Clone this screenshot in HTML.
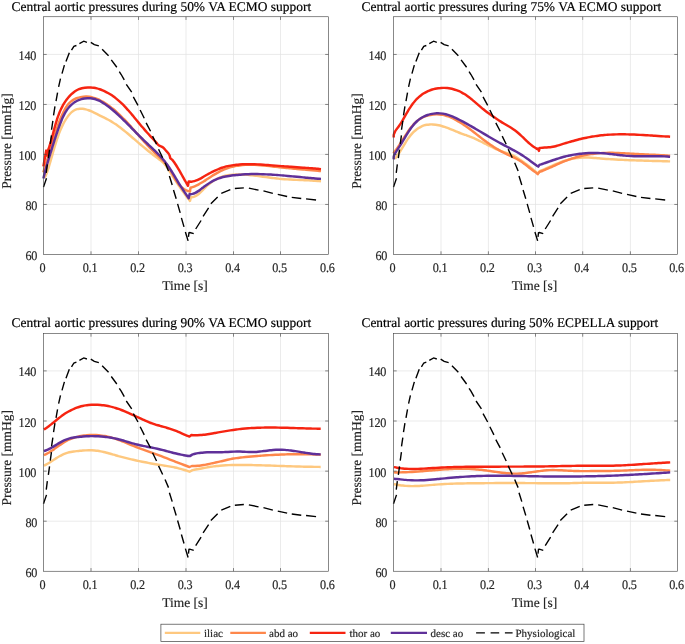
<!DOCTYPE html>
<html lang="en"><head><meta charset="utf-8"><title>Central aortic pressures</title>
<style>html,body{margin:0;padding:0;background:#fff}body{width:685px;height:644px;overflow:hidden}svg{display:block;font-family:"Liberation Serif",serif}text{stroke:#262626;stroke-width:.18px;text-rendering:geometricPrecision}text.t{stroke:#000}</style>
</head><body>
<svg width="685" height="644" viewBox="0 0 685 644">
<rect width="685" height="644" fill="#fff"/>
<g>
<path d="M91 16.75V254.5M138.5 16.75V254.5M186 16.75V254.5M233.5 16.75V254.5M280.5 16.75V254.5M43.5 204.45H328.4M43.5 154.4H328.4M43.5 104.45H328.4M43.5 54.45H328.4" stroke="#e2e2e2" stroke-width="0.7" fill="none"/>
<g fill="none" stroke-width="2.45" stroke-linejoin="round">
<path d="M44.5 178C44.73 177.54 45.48 176.17 45.9 175.25C46.31 174.33 46.64 173.4 46.98 172.47C47.32 171.54 47.62 170.6 47.92 169.66C48.23 168.72 48.53 167.78 48.82 166.83C49.11 165.89 49.4 164.93 49.69 163.98C49.97 163.03 50.25 162.07 50.53 161.11C50.8 160.16 51.08 159.2 51.35 158.23C51.62 157.27 51.9 156.31 52.17 155.35C52.44 154.38 52.71 153.42 52.99 152.46C53.27 151.49 53.54 150.53 53.82 149.56C54.1 148.6 54.38 147.64 54.67 146.67C54.96 145.71 55.25 144.75 55.55 143.79C55.85 142.83 56.15 141.88 56.46 140.92C56.77 139.97 57.09 139.01 57.42 138.06C57.74 137.12 58.08 136.17 58.42 135.23C58.77 134.28 59.12 133.35 59.49 132.41C59.85 131.48 60.23 130.55 60.62 129.62C61.01 128.7 61.41 127.78 61.83 126.87C62.25 125.95 62.69 125.05 63.14 124.15C63.6 123.26 64.08 122.37 64.58 121.49C65.08 120.62 65.6 119.75 66.16 118.9C66.71 118.05 67.29 117.2 67.91 116.38C68.52 115.56 69.16 114.74 69.84 113.99C70.52 113.24 71.23 112.51 71.99 111.88C72.74 111.25 73.53 110.68 74.36 110.23C75.2 109.78 76.08 109.43 76.99 109.18C77.9 108.93 78.85 108.8 79.81 108.75C80.77 108.69 81.77 108.73 82.76 108.84C83.75 108.94 84.75 109.14 85.74 109.38C86.73 109.62 87.72 109.94 88.69 110.28C89.66 110.63 90.63 111.04 91.58 111.46C92.53 111.87 93.47 112.34 94.41 112.8C95.34 113.25 96.27 113.74 97.19 114.2C98.1 114.66 99.01 115.12 99.91 115.57C100.81 116.02 101.7 116.45 102.59 116.88C103.47 117.32 104.35 117.74 105.22 118.18C106.09 118.62 106.95 119.06 107.81 119.51C108.67 119.97 109.52 120.43 110.36 120.92C111.21 121.41 112.05 121.92 112.88 122.44C113.71 122.97 114.54 123.51 115.36 124.07C116.19 124.62 117 125.2 117.82 125.78C118.63 126.37 119.44 126.97 120.24 127.58C121.04 128.19 121.84 128.81 122.64 129.44C123.43 130.06 124.22 130.7 125.01 131.34C125.8 131.98 126.58 132.63 127.36 133.28C128.14 133.93 128.91 134.59 129.69 135.25C130.46 135.9 131.23 136.56 132 137.22C132.76 137.88 133.53 138.53 134.29 139.19C135.05 139.84 135.81 140.49 136.57 141.14C137.32 141.79 138.08 142.43 138.84 143.08C139.59 143.72 140.35 144.36 141.11 145C141.87 145.64 142.62 146.28 143.38 146.91C144.15 147.55 144.91 148.18 145.67 148.81C146.44 149.44 147.21 150.06 147.98 150.69C148.75 151.31 149.53 151.94 150.31 152.56C151.09 153.18 151.88 153.8 152.67 154.41C153.47 155.03 154.27 155.64 155.08 156.25C155.88 156.86 156.7 157.47 157.52 158.08C158.33 158.69 159.17 159.3 159.97 159.92C160.76 160.55 161.56 161.18 162.31 161.85C163.05 162.52 163.78 163.21 164.44 163.94C165.09 164.67 165.68 165.44 166.26 166.23C166.83 167.02 167.35 167.86 167.88 168.68C168.42 169.51 168.94 170.34 169.47 171.18C170.01 172.02 170.54 172.86 171.08 173.7C171.61 174.54 172.15 175.38 172.7 176.23C173.24 177.07 173.79 177.92 174.33 178.77C174.88 179.61 175.43 180.46 175.99 181.3C176.54 182.15 177.1 182.99 177.66 183.83C178.22 184.68 178.79 185.52 179.35 186.35C179.92 187.19 180.49 188.02 181.07 188.86C181.65 189.69 182.22 190.51 182.81 191.33C183.39 192.16 183.98 192.97 184.57 193.78C185.16 194.59 185.75 195.4 186.35 196.2C186.95 197 187.56 197.79 188.16 198.57C188.77 199.36 189.69 200.51 190 200.9L190 200.9L190.9 197.3L190.91 197.31C191.38 197.23 192.84 197.14 193.74 196.87C194.65 196.59 195.5 196.15 196.33 195.66C197.16 195.17 197.95 194.56 198.73 193.93C199.5 193.3 200.25 192.6 201 191.89C201.75 191.18 202.48 190.42 203.22 189.67C203.96 188.92 204.69 188.15 205.44 187.4C206.2 186.66 206.95 185.91 207.74 185.2C208.53 184.5 209.33 183.82 210.16 183.17C210.98 182.53 211.83 181.92 212.69 181.34C213.55 180.76 214.44 180.22 215.33 179.72C216.23 179.21 217.14 178.74 218.06 178.31C218.98 177.88 219.92 177.49 220.87 177.14C221.82 176.79 222.78 176.49 223.75 176.22C224.71 175.95 225.69 175.73 226.67 175.54C227.66 175.34 228.65 175.19 229.64 175.06C230.64 174.93 231.64 174.83 232.64 174.75C233.64 174.67 234.64 174.62 235.65 174.58C236.65 174.54 237.66 174.53 238.66 174.52C239.67 174.52 240.68 174.54 241.68 174.57C242.69 174.59 243.7 174.64 244.71 174.7C245.72 174.75 246.73 174.82 247.75 174.9C248.76 174.98 249.77 175.08 250.78 175.18C251.8 175.28 252.81 175.39 253.83 175.5C254.84 175.62 255.86 175.74 256.87 175.87C257.89 176 258.91 176.13 259.92 176.27C260.94 176.4 261.96 176.54 262.98 176.68C264 176.83 265.02 176.97 266.03 177.11C267.05 177.25 268.07 177.39 269.09 177.53C270.11 177.67 271.13 177.8 272.15 177.93C273.17 178.06 274.2 178.19 275.22 178.31C276.24 178.43 277.26 178.54 278.28 178.64C279.3 178.75 280.32 178.84 281.34 178.93C282.36 179.02 283.38 179.1 284.41 179.18C285.43 179.25 286.45 179.32 287.47 179.38C288.49 179.45 289.51 179.5 290.53 179.56C291.55 179.62 292.57 179.67 293.59 179.71C294.61 179.76 295.63 179.81 296.65 179.85C297.67 179.9 298.69 179.94 299.71 179.98C300.72 180.03 301.74 180.07 302.76 180.12C303.78 180.16 304.79 180.2 305.81 180.25C306.83 180.3 307.84 180.35 308.86 180.4C309.87 180.46 310.89 180.52 311.9 180.58C312.91 180.64 313.93 180.71 314.94 180.78C315.95 180.85 316.96 180.93 317.97 181.02C318.98 181.11 320.49 181.25 321 181.3" stroke="#FEC87F"/>
<path d="M43.3 172.4C43.45 171.92 43.88 170.46 44.17 169.49C44.46 168.53 44.75 167.57 45.05 166.61C45.34 165.65 45.64 164.7 45.93 163.74C46.23 162.79 46.53 161.84 46.83 160.89C47.13 159.94 47.43 158.99 47.73 158.04C48.03 157.1 48.33 156.15 48.63 155.2C48.93 154.26 49.23 153.31 49.53 152.36C49.83 151.42 50.13 150.47 50.42 149.52C50.72 148.57 51.02 147.62 51.31 146.67C51.61 145.72 51.9 144.76 52.2 143.8C52.49 142.85 52.78 141.88 53.07 140.92C53.36 139.96 53.64 138.99 53.93 138.03C54.23 137.06 54.51 136.1 54.81 135.13C55.1 134.16 55.4 133.19 55.7 132.23C56 131.26 56.3 130.3 56.61 129.33C56.92 128.37 57.24 127.41 57.56 126.45C57.89 125.5 58.22 124.54 58.56 123.59C58.9 122.65 59.25 121.7 59.61 120.76C59.97 119.82 60.34 118.89 60.73 117.96C61.11 117.03 61.51 116.11 61.92 115.2C62.33 114.28 62.76 113.38 63.2 112.48C63.64 111.59 64.09 110.69 64.58 109.82C65.06 108.95 65.55 108.09 66.09 107.26C66.63 106.43 67.19 105.62 67.79 104.86C68.4 104.09 69.04 103.36 69.74 102.67C70.44 101.99 71.18 101.35 71.99 100.77C72.8 100.2 73.67 99.67 74.57 99.21C75.48 98.75 76.45 98.35 77.43 98.01C78.41 97.66 79.43 97.38 80.44 97.16C81.46 96.94 82.49 96.78 83.51 96.69C84.52 96.59 85.53 96.56 86.52 96.58C87.51 96.6 88.49 96.69 89.46 96.82C90.42 96.95 91.38 97.13 92.32 97.36C93.26 97.59 94.19 97.87 95.11 98.18C96.03 98.49 96.94 98.85 97.83 99.23C98.73 99.62 99.62 100.05 100.49 100.49C101.37 100.94 102.23 101.42 103.08 101.92C103.94 102.41 104.78 102.94 105.62 103.48C106.45 104.01 107.28 104.57 108.09 105.15C108.91 105.72 109.72 106.32 110.52 106.92C111.31 107.53 112.1 108.16 112.88 108.79C113.66 109.43 114.44 110.08 115.2 110.75C115.97 111.41 116.72 112.09 117.47 112.78C118.22 113.46 118.97 114.16 119.7 114.87C120.44 115.58 121.17 116.29 121.89 117.02C122.61 117.74 123.33 118.47 124.04 119.21C124.75 119.94 125.45 120.68 126.15 121.43C126.85 122.18 127.54 122.93 128.23 123.68C128.91 124.43 129.6 125.19 130.27 125.94C130.95 126.69 131.63 127.45 132.29 128.21C132.96 128.96 133.63 129.71 134.29 130.47C134.95 131.22 135.61 131.97 136.26 132.71C136.92 133.46 137.57 134.2 138.22 134.95C138.88 135.69 139.53 136.43 140.18 137.16C140.83 137.9 141.48 138.64 142.13 139.37C142.78 140.1 143.44 140.83 144.09 141.56C144.75 142.29 145.41 143.01 146.07 143.73C146.74 144.45 147.4 145.17 148.07 145.89C148.75 146.61 149.42 147.32 150.1 148.03C150.79 148.74 151.48 149.45 152.17 150.16C152.87 150.86 153.57 151.57 154.29 152.27C155 152.97 155.72 153.66 156.45 154.36C157.18 155.05 157.93 155.74 158.67 156.44C159.41 157.13 160.16 157.82 160.89 158.53C161.63 159.23 162.36 159.94 163.07 160.67C163.78 161.4 164.48 162.14 165.15 162.9C165.82 163.67 166.46 164.45 167.07 165.26C167.68 166.07 168.26 166.91 168.81 167.76C169.36 168.61 169.88 169.48 170.4 170.36C170.91 171.24 171.4 172.13 171.89 173.02C172.38 173.91 172.86 174.81 173.34 175.69C173.83 176.57 174.31 177.46 174.81 178.32C175.31 179.19 175.81 180.04 176.34 180.87C176.87 181.7 177.41 182.51 177.99 183.28C178.57 184.06 179.17 184.81 179.82 185.51C180.46 186.22 181.14 186.9 181.87 187.52C182.6 188.14 183.37 188.72 184.21 189.24C185.05 189.76 185.93 190.23 186.9 190.62C187.86 191.02 189.48 191.44 190 191.6L190 191.6L190.5 187.7L190.5 187.9C190.98 187.73 192.42 187.27 193.36 186.9C194.29 186.53 195.21 186.12 196.11 185.69C197.02 185.26 197.9 184.8 198.78 184.32C199.67 183.84 200.53 183.34 201.4 182.82C202.26 182.31 203.11 181.77 203.97 181.23C204.82 180.69 205.67 180.13 206.52 179.58C207.37 179.03 208.22 178.47 209.07 177.91C209.92 177.36 210.78 176.8 211.64 176.25C212.49 175.71 213.35 175.16 214.22 174.63C215.09 174.1 215.96 173.58 216.85 173.08C217.73 172.58 218.61 172.09 219.51 171.62C220.41 171.16 221.32 170.71 222.23 170.29C223.15 169.87 224.08 169.47 225.02 169.1C225.95 168.73 226.9 168.38 227.86 168.06C228.81 167.74 229.78 167.45 230.74 167.18C231.71 166.91 232.68 166.67 233.66 166.45C234.63 166.23 235.61 166.04 236.59 165.87C237.57 165.69 238.56 165.55 239.54 165.42C240.53 165.29 241.52 165.19 242.51 165.1C243.5 165.01 244.49 164.95 245.48 164.9C246.48 164.85 247.47 164.82 248.47 164.8C249.47 164.78 250.47 164.79 251.47 164.8C252.47 164.81 253.47 164.84 254.48 164.88C255.48 164.92 256.49 164.97 257.49 165.03C258.5 165.09 259.51 165.16 260.52 165.24C261.53 165.32 262.54 165.41 263.55 165.5C264.56 165.6 265.57 165.7 266.59 165.8C267.6 165.91 268.61 166.02 269.63 166.13C270.64 166.24 271.66 166.36 272.67 166.47C273.69 166.59 274.7 166.71 275.72 166.82C276.73 166.93 277.75 167.05 278.77 167.16C279.78 167.27 280.8 167.38 281.81 167.49C282.83 167.59 283.85 167.7 284.86 167.8C285.88 167.9 286.89 168 287.91 168.1C288.92 168.2 289.94 168.3 290.95 168.39C291.96 168.49 292.98 168.58 293.99 168.67C295 168.76 296.01 168.86 297.02 168.95C298.03 169.04 299.04 169.13 300.05 169.21C301.06 169.3 302.07 169.39 303.07 169.48C304.08 169.57 305.08 169.66 306.09 169.74C307.09 169.83 308.09 169.92 309.09 170.01C310.09 170.1 311.09 170.18 312.08 170.27C313.08 170.36 314.08 170.45 315.07 170.54C316.06 170.63 317.05 170.72 318.04 170.82C319.03 170.91 320.5 171.05 321 171.1" stroke="#FE874B"/>
<path d="M43.4 166.4L44.6 159.5L46.2 150.6L46.8 155.6L48.3 149.6L48.3 149.6C48.46 149.13 48.97 147.72 49.29 146.77C49.61 145.82 49.91 144.86 50.21 143.89C50.5 142.93 50.78 141.96 51.06 140.99C51.34 140.01 51.6 139.03 51.87 138.05C52.14 137.07 52.39 136.09 52.65 135.1C52.91 134.12 53.17 133.13 53.42 132.14C53.68 131.15 53.94 130.16 54.2 129.18C54.46 128.19 54.72 127.2 54.99 126.22C55.27 125.24 55.54 124.25 55.83 123.28C56.11 122.3 56.41 121.32 56.71 120.35C57.02 119.38 57.33 118.42 57.66 117.46C57.99 116.5 58.34 115.55 58.7 114.61C59.05 113.66 59.43 112.72 59.82 111.8C60.21 110.87 60.62 109.95 61.05 109.04C61.48 108.13 61.93 107.23 62.41 106.35C62.88 105.46 63.38 104.58 63.9 103.72C64.42 102.86 64.96 102.01 65.53 101.17C66.11 100.34 66.7 99.51 67.33 98.71C67.96 97.91 68.62 97.12 69.3 96.36C69.99 95.61 70.7 94.87 71.45 94.19C72.19 93.5 72.97 92.84 73.77 92.23C74.57 91.63 75.41 91.06 76.27 90.56C77.14 90.06 78.03 89.61 78.96 89.22C79.89 88.84 80.85 88.52 81.83 88.27C82.8 88.01 83.81 87.82 84.82 87.68C85.83 87.54 86.86 87.47 87.87 87.43C88.89 87.4 89.91 87.42 90.91 87.49C91.91 87.55 92.91 87.67 93.9 87.82C94.89 87.98 95.87 88.18 96.84 88.42C97.81 88.65 98.77 88.93 99.73 89.25C100.68 89.56 101.62 89.91 102.55 90.3C103.48 90.68 104.41 91.1 105.32 91.55C106.23 91.99 107.12 92.47 108.01 92.98C108.9 93.48 109.77 94.01 110.63 94.57C111.5 95.12 112.35 95.7 113.18 96.3C114.02 96.89 114.84 97.51 115.65 98.14C116.46 98.78 117.25 99.43 118.03 100.09C118.81 100.76 119.58 101.44 120.33 102.12C121.08 102.81 121.81 103.51 122.53 104.22C123.25 104.92 123.96 105.64 124.65 106.36C125.35 107.09 126.03 107.82 126.71 108.56C127.39 109.29 128.05 110.04 128.71 110.79C129.37 111.54 130.02 112.3 130.67 113.06C131.32 113.82 131.96 114.59 132.6 115.36C133.24 116.13 133.87 116.9 134.51 117.68C135.15 118.45 135.79 119.23 136.42 120.01C137.06 120.79 137.7 121.58 138.35 122.36C138.99 123.14 139.64 123.92 140.3 124.71C140.95 125.49 141.61 126.27 142.28 127.05C142.95 127.84 143.63 128.62 144.31 129.39C144.99 130.17 145.69 130.95 146.38 131.72C147.07 132.49 147.77 133.26 148.46 134.02C149.16 134.78 149.85 135.54 150.54 136.3C151.23 137.05 151.92 137.8 152.61 138.54C153.29 139.28 153.97 140.01 154.63 140.74C155.3 141.47 156.27 142.54 156.6 142.9L156.6 142.9C156.87 143.23 157.6 144.38 158.2 144.9C158.8 145.42 159.33 145.52 160.2 146C161.07 146.48 162.5 147.08 163.4 147.8C164.3 148.52 164.73 149.33 165.6 150.3C166.47 151.27 167.9 152.62 168.6 153.6C169.3 154.58 169.5 155.42 169.8 156.2C170.1 156.98 170.02 157.73 170.4 158.3C170.78 158.87 171.47 158.95 172.1 159.6C172.73 160.25 173.85 161.77 174.2 162.2L174.2 162.2C174.48 162.62 175.32 163.89 175.86 164.75C176.4 165.6 176.93 166.46 177.46 167.33C177.98 168.19 178.5 169.07 179.01 169.94C179.52 170.82 180.02 171.7 180.52 172.58C181.02 173.46 181.51 174.34 182.01 175.23C182.5 176.11 182.99 177 183.48 177.88C183.98 178.77 184.47 179.65 184.97 180.53C185.47 181.42 185.96 182.3 186.47 183.18C186.97 184.05 187.74 185.36 188 185.8L188 185.8L188.7 181.5L188.7 181.5C189.19 181.53 190.67 181.74 191.62 181.69C192.58 181.63 193.51 181.43 194.43 181.18C195.35 180.93 196.26 180.57 197.16 180.19C198.06 179.8 198.95 179.34 199.84 178.87C200.73 178.4 201.61 177.88 202.49 177.36C203.38 176.85 204.27 176.3 205.17 175.78C206.06 175.26 206.96 174.73 207.87 174.22C208.78 173.72 209.69 173.21 210.61 172.73C211.53 172.25 212.45 171.77 213.38 171.32C214.31 170.87 215.24 170.43 216.18 170.01C217.12 169.59 218.06 169.2 219.01 168.82C219.96 168.45 220.91 168.1 221.87 167.78C222.82 167.46 223.78 167.17 224.75 166.9C225.71 166.64 226.68 166.4 227.65 166.18C228.62 165.97 229.59 165.78 230.57 165.6C231.54 165.43 232.52 165.28 233.5 165.14C234.48 165.01 235.47 164.89 236.45 164.78C237.44 164.68 238.43 164.59 239.42 164.51C240.41 164.44 241.4 164.38 242.4 164.33C243.39 164.28 244.39 164.24 245.38 164.21C246.38 164.19 247.38 164.17 248.38 164.17C249.38 164.16 250.38 164.17 251.39 164.18C252.39 164.2 253.4 164.22 254.4 164.25C255.41 164.29 256.42 164.33 257.43 164.37C258.44 164.42 259.45 164.47 260.46 164.53C261.47 164.59 262.48 164.65 263.49 164.72C264.51 164.78 265.52 164.86 266.53 164.93C267.55 165.01 268.56 165.08 269.58 165.16C270.59 165.24 271.61 165.33 272.63 165.41C273.64 165.49 274.66 165.57 275.68 165.65C276.69 165.74 277.71 165.82 278.73 165.9C279.74 165.98 280.76 166.06 281.78 166.13C282.79 166.21 283.81 166.29 284.82 166.36C285.84 166.44 286.86 166.51 287.87 166.58C288.89 166.66 289.9 166.73 290.92 166.8C291.93 166.87 292.94 166.95 293.96 167.02C294.97 167.09 295.98 167.16 296.99 167.23C298 167.3 299.01 167.37 300.02 167.44C301.03 167.52 302.04 167.59 303.05 167.66C304.05 167.73 305.06 167.81 306.06 167.88C307.07 167.96 308.07 168.03 309.07 168.11C310.07 168.18 311.07 168.26 312.07 168.34C313.07 168.42 314.06 168.5 315.06 168.58C316.05 168.67 317.04 168.75 318.03 168.84C319.02 168.92 320.5 169.06 321 169.1" stroke="#F62411"/>
<path d="M43.4 178.5C43.52 178.01 43.86 176.52 44.1 175.53C44.35 174.54 44.59 173.56 44.85 172.58C45.1 171.59 45.36 170.61 45.63 169.63C45.9 168.65 46.17 167.68 46.44 166.7C46.72 165.72 47 164.75 47.28 163.78C47.56 162.81 47.85 161.84 48.14 160.87C48.42 159.9 48.72 158.93 49.01 157.96C49.3 157 49.6 156.03 49.89 155.07C50.19 154.1 50.48 153.14 50.78 152.18C51.07 151.21 51.37 150.25 51.67 149.29C51.96 148.33 52.26 147.37 52.56 146.41C52.85 145.45 53.15 144.49 53.45 143.53C53.75 142.57 54.06 141.61 54.36 140.65C54.67 139.69 54.98 138.74 55.29 137.78C55.6 136.82 55.91 135.86 56.24 134.9C56.56 133.94 56.88 132.98 57.21 132.02C57.54 131.06 57.88 130.1 58.22 129.14C58.56 128.18 58.91 127.22 59.26 126.26C59.62 125.29 59.98 124.33 60.35 123.37C60.72 122.4 61.09 121.44 61.49 120.48C61.88 119.52 62.28 118.56 62.7 117.62C63.13 116.68 63.57 115.75 64.03 114.83C64.5 113.92 64.98 113.02 65.5 112.15C66.02 111.28 66.56 110.42 67.14 109.6C67.72 108.78 68.33 107.98 68.98 107.22C69.63 106.46 70.32 105.74 71.05 105.05C71.78 104.37 72.56 103.72 73.36 103.13C74.17 102.53 75.01 101.98 75.88 101.48C76.76 100.98 77.66 100.53 78.59 100.14C79.52 99.75 80.48 99.42 81.45 99.15C82.42 98.88 83.42 98.67 84.42 98.52C85.41 98.36 86.43 98.27 87.44 98.24C88.44 98.21 89.46 98.24 90.46 98.33C91.45 98.42 92.45 98.58 93.42 98.79C94.39 99 95.35 99.29 96.29 99.61C97.24 99.93 98.16 100.32 99.08 100.73C99.99 101.14 100.88 101.61 101.77 102.1C102.65 102.58 103.52 103.11 104.38 103.66C105.24 104.21 106.09 104.79 106.92 105.38C107.76 105.98 108.58 106.61 109.39 107.24C110.21 107.88 111.01 108.53 111.8 109.2C112.59 109.86 113.38 110.54 114.15 111.22C114.93 111.89 115.69 112.58 116.45 113.27C117.21 113.96 117.96 114.65 118.71 115.34C119.45 116.04 120.19 116.73 120.92 117.43C121.65 118.13 122.38 118.84 123.1 119.54C123.83 120.24 124.54 120.95 125.26 121.66C125.97 122.37 126.68 123.07 127.39 123.79C128.1 124.5 128.81 125.21 129.51 125.92C130.22 126.63 130.92 127.35 131.62 128.06C132.32 128.77 133.02 129.49 133.73 130.2C134.43 130.92 135.13 131.63 135.83 132.34C136.54 133.06 137.24 133.77 137.95 134.48C138.66 135.19 139.37 135.9 140.08 136.61C140.79 137.32 141.51 138.03 142.23 138.74C142.95 139.45 143.68 140.15 144.41 140.85C145.14 141.56 145.87 142.26 146.61 142.96C147.35 143.66 148.1 144.35 148.84 145.05C149.59 145.75 150.33 146.45 151.08 147.15C151.82 147.85 152.57 148.55 153.31 149.26C154.04 149.96 154.78 150.67 155.51 151.38C156.24 152.1 156.96 152.82 157.68 153.54C158.39 154.27 159.1 155 159.79 155.73C160.48 156.47 161.17 157.22 161.84 157.97C162.5 158.73 163.16 159.49 163.8 160.27C164.44 161.04 165.06 161.83 165.67 162.63C166.28 163.42 166.87 164.23 167.46 165.05C168.04 165.86 168.61 166.69 169.17 167.52C169.73 168.36 170.27 169.2 170.82 170.05C171.36 170.9 171.89 171.75 172.43 172.61C172.96 173.47 173.48 174.34 174 175.2C174.53 176.07 175.04 176.94 175.56 177.81C176.08 178.68 176.6 179.56 177.13 180.43C177.65 181.3 178.17 182.17 178.7 183.04C179.23 183.91 179.76 184.77 180.31 185.64C180.85 186.5 181.4 187.36 181.95 188.21C182.51 189.06 183.07 189.91 183.64 190.76C184.2 191.6 184.77 192.45 185.34 193.29C185.91 194.13 186.47 194.96 187.03 195.8C187.6 196.63 188.42 197.88 188.7 198.3L188.7 198.3L189.6 194L189.6 194.31C190.11 194.23 191.66 194.1 192.61 193.85C193.57 193.61 194.46 193.25 195.33 192.84C196.2 192.43 197.02 191.93 197.84 191.4C198.66 190.88 199.45 190.28 200.25 189.69C201.05 189.09 201.83 188.45 202.64 187.83C203.45 187.21 204.27 186.57 205.11 185.96C205.95 185.35 206.8 184.74 207.67 184.15C208.53 183.56 209.42 182.99 210.31 182.44C211.2 181.9 212.1 181.37 213.02 180.88C213.93 180.4 214.86 179.93 215.79 179.52C216.72 179.11 217.67 178.73 218.62 178.4C219.57 178.06 220.53 177.77 221.49 177.5C222.45 177.24 223.42 177.01 224.4 176.8C225.37 176.58 226.35 176.4 227.33 176.22C228.31 176.05 229.29 175.89 230.28 175.74C231.26 175.59 232.25 175.46 233.24 175.33C234.23 175.2 235.22 175.08 236.21 174.98C237.21 174.87 238.2 174.78 239.2 174.69C240.2 174.6 241.2 174.53 242.2 174.46C243.2 174.39 244.2 174.33 245.2 174.28C246.21 174.23 247.21 174.19 248.22 174.16C249.22 174.13 250.23 174.1 251.24 174.09C252.25 174.07 253.26 174.06 254.27 174.06C255.28 174.06 256.29 174.06 257.3 174.07C258.32 174.09 259.33 174.11 260.34 174.13C261.36 174.15 262.37 174.19 263.39 174.22C264.4 174.26 265.42 174.3 266.44 174.35C267.45 174.39 268.47 174.45 269.49 174.5C270.51 174.56 271.52 174.62 272.54 174.69C273.56 174.75 274.58 174.82 275.6 174.9C276.62 174.97 277.63 175.05 278.65 175.13C279.67 175.21 280.69 175.29 281.71 175.37C282.73 175.46 283.74 175.55 284.76 175.64C285.78 175.73 286.8 175.82 287.81 175.92C288.83 176.01 289.85 176.1 290.86 176.2C291.88 176.3 292.89 176.39 293.91 176.49C294.92 176.59 295.93 176.69 296.95 176.79C297.96 176.89 298.97 176.99 299.98 177.08C300.99 177.18 302 177.28 303.01 177.38C304.02 177.47 305.02 177.57 306.03 177.66C307.03 177.76 308.04 177.85 309.04 177.94C310.04 178.03 311.05 178.12 312.05 178.2C313.05 178.29 314.04 178.37 315.04 178.45C316.04 178.53 317.03 178.61 318.02 178.69C319.02 178.76 320.5 178.86 321 178.9" stroke="#5F3099"/>
</g>
<path d="M43.49 187.13L46.51 178.17M46.26 172.95L47.34 164.45M48.35 158.15L49.55 149.65M50.25 143.95L51.45 135.45M51.55 129.75L52.85 120.95M53.55 115.35L54.95 106.45M56.04 101.24L57.56 92.56M58.62 86.94L60.48 78.66M62 73.64L64.4 65.16M65.98 61.53L69.32 52.67M71.51 50.1L73.9 46.3L76.43 45.49M79.39 43.57L83.8 41.2L86.93 42.32M90.81 42.41L94.3 44.7L98.84 45.89M102.15 49.15L108.55 55.65M111.29 59.82L116.81 67.28M119.31 71.61L121.2 74.5L124.27 79.9M126.3 84.31L131.7 92.19M133.33 96.89L137.97 105.31M140.14 109.99L144.26 118.21M146.14 122.89L150.56 131.21M152.55 136.09L156.55 144.31M158.55 149.18L162.65 157.82M165.06 162.78L168.54 170.92M169.4 175.97L172.2 184.93M173.5 189.97L176.2 198.73M177.6 203.86L180.2 212.84M181.4 217.86L184 226.84M185.4 231.97L188.1 240.83M188.46 236.85L188.95 232.7L189.8 232.5L193.73 233.7M195.71 229L201.09 220.5M203.11 216.29L208.59 207.81M210.85 203.85L217.65 196.95M221.28 193.43L230.32 189.67M234.85 188.53L243.85 187.87M248.86 188.13L258.54 190.17M263.46 190.91L272.84 193.39M277.76 194.43L287.14 196.47M291.75 197.36L301.25 198.54M306.05 198.86L316.05 199.94" stroke="#000" stroke-width="1.4" fill="none" stroke-linejoin="miter"/>
<path d="M91 254.5v-3.2M91 16.75v3.2M138.5 254.5v-3.2M138.5 16.75v3.2M186 254.5v-3.2M186 16.75v3.2M233.5 254.5v-3.2M233.5 16.75v3.2M280.5 254.5v-3.2M280.5 16.75v3.2M43.5 204.45h3.2M328.4 204.45h-3.2M43.5 154.4h3.2M328.4 154.4h-3.2M43.5 104.45h3.2M328.4 104.45h-3.2M43.5 54.45h3.2M328.4 54.45h-3.2" stroke="#404040" stroke-width="0.62" fill="none"/>
<rect x="43.5" y="16.75" width="284.9" height="237.75" fill="none" stroke="#404040" stroke-width="0.62"/>
<g fill="#262626">
<text letter-spacing="-0.2" transform="translate(42.5 272.1) scale(0.93 1)" font-size="13.1" text-anchor="middle">0</text>
<text letter-spacing="-0.2" transform="translate(90 272.1) scale(0.93 1)" font-size="13.1" text-anchor="middle">0.1</text>
<text letter-spacing="-0.2" transform="translate(137.5 272.1) scale(0.93 1)" font-size="13.1" text-anchor="middle">0.2</text>
<text letter-spacing="-0.2" transform="translate(185 272.1) scale(0.93 1)" font-size="13.1" text-anchor="middle">0.3</text>
<text letter-spacing="-0.2" transform="translate(232.5 272.1) scale(0.93 1)" font-size="13.1" text-anchor="middle">0.4</text>
<text letter-spacing="-0.2" transform="translate(279.5 272.1) scale(0.93 1)" font-size="13.1" text-anchor="middle">0.5</text>
<text letter-spacing="-0.2" transform="translate(327.4 272.1) scale(0.93 1)" font-size="13.1" text-anchor="middle">0.6</text>
<text letter-spacing="-0.2" transform="translate(37.2 260) scale(0.93 1)" font-size="13.1" text-anchor="end">60</text>
<text letter-spacing="-0.2" transform="translate(37.2 209.95) scale(0.93 1)" font-size="13.1" text-anchor="end">80</text>
<text letter-spacing="-0.2" transform="translate(36.2 159.9) scale(0.93 1)" font-size="13.1" text-anchor="end">100</text>
<text letter-spacing="-0.2" transform="translate(36.2 109.95) scale(0.93 1)" font-size="13.1" text-anchor="end">120</text>
<text letter-spacing="-0.2" transform="translate(36.2 59.95) scale(0.93 1)" font-size="13.1" text-anchor="end">140</text>
<text transform="translate(184.95 289.9) scale(1.005 1)" font-size="13.4" text-anchor="middle">Time [s]</text>
<text transform="translate(10.8 141.03) rotate(-90) scale(1.005 1)" font-size="13.4" text-anchor="middle">Pressure [mmHg]</text>
<text class="t" transform="translate(11.5 11) scale(1.005 1)" font-size="13.4" fill="#000">Central aortic pressures during 50% VA ECMO support</text>
</g>
</g>
<g>
<path d="M441 16.75V254.5M488.4 16.75V254.5M535.5 16.75V254.5M582.7 16.75V254.5M630.4 16.75V254.5M393.5 204.45H677.5M393.5 154.4H677.5M393.5 104.45H677.5M393.5 54.45H677.5" stroke="#e2e2e2" stroke-width="0.7" fill="none"/>
<g fill="none" stroke-width="2.45" stroke-linejoin="round">
<path d="M394.87 158.8C395.18 158.41 396.14 157.27 396.75 156.48C397.35 155.69 397.92 154.87 398.48 154.05C399.05 153.22 399.58 152.38 400.12 151.53C400.65 150.68 401.17 149.82 401.69 148.96C402.21 148.09 402.72 147.22 403.24 146.35C403.75 145.49 404.27 144.61 404.79 143.75C405.32 142.89 405.84 142.02 406.39 141.17C406.94 140.32 407.49 139.48 408.07 138.65C408.65 137.82 409.25 137.01 409.87 136.21C410.5 135.42 411.15 134.63 411.83 133.88C412.51 133.13 413.22 132.39 413.96 131.7C414.69 131.01 415.46 130.34 416.24 129.72C417.03 129.1 417.85 128.51 418.68 127.98C419.52 127.45 420.38 126.97 421.26 126.55C422.14 126.12 423.05 125.76 423.97 125.46C424.89 125.16 425.83 124.93 426.79 124.76C427.74 124.59 428.72 124.49 429.69 124.43C430.67 124.38 431.67 124.38 432.66 124.43C433.66 124.48 434.67 124.58 435.67 124.71C436.67 124.85 437.67 125.03 438.67 125.24C439.67 125.46 440.67 125.71 441.65 125.98C442.64 126.26 443.62 126.57 444.59 126.89C445.56 127.21 446.52 127.56 447.48 127.92C448.44 128.28 449.39 128.66 450.33 129.04C451.28 129.42 452.22 129.81 453.16 130.2C454.1 130.59 455.03 130.99 455.96 131.38C456.89 131.76 457.82 132.15 458.74 132.51C459.67 132.88 460.59 133.23 461.51 133.58C462.44 133.92 463.36 134.25 464.28 134.58C465.2 134.91 466.11 135.22 467.03 135.56C467.95 135.89 468.87 136.22 469.78 136.57C470.7 136.92 471.62 137.28 472.53 137.67C473.44 138.05 474.36 138.45 475.27 138.87C476.19 139.28 477.1 139.72 478.01 140.16C478.93 140.6 479.84 141.05 480.75 141.51C481.67 141.96 482.58 142.42 483.49 142.88C484.4 143.35 485.32 143.81 486.23 144.27C487.14 144.73 488.06 145.19 488.97 145.64C489.88 146.09 490.8 146.54 491.71 146.98C492.63 147.42 493.54 147.85 494.46 148.26C495.38 148.68 496.29 149.09 497.21 149.48C498.13 149.86 499.05 150.24 499.97 150.6C500.89 150.95 501.81 151.28 502.73 151.6C503.66 151.93 504.58 152.23 505.5 152.55C506.42 152.86 507.34 153.17 508.25 153.51C509.17 153.85 510.08 154.19 510.99 154.58C511.9 154.96 512.8 155.38 513.7 155.83C514.59 156.29 515.48 156.78 516.36 157.3C517.24 157.81 518.12 158.36 518.98 158.92C519.84 159.48 520.69 160.07 521.53 160.65C522.37 161.24 523.2 161.83 524.01 162.43C524.83 163.03 525.63 163.63 526.43 164.24C527.23 164.85 528.01 165.46 528.79 166.08C529.57 166.7 530.34 167.32 531.11 167.94C531.88 168.57 532.65 169.2 533.41 169.84C534.18 170.47 534.94 171.11 535.7 171.75C536.47 172.4 537.62 173.38 538 173.7L538 173.7L539.6 171.14L539.6 171.14C540.06 170.95 541.42 170.4 542.34 170.02C543.25 169.63 544.17 169.23 545.09 168.83C546.02 168.43 546.94 168.02 547.87 167.61C548.8 167.19 549.73 166.78 550.67 166.36C551.6 165.95 552.54 165.53 553.48 165.13C554.42 164.72 555.37 164.31 556.31 163.92C557.26 163.53 558.21 163.14 559.16 162.77C560.12 162.4 561.07 162.04 562.03 161.69C562.99 161.35 563.95 161.03 564.91 160.72C565.87 160.42 566.84 160.14 567.81 159.87C568.78 159.61 569.75 159.36 570.72 159.14C571.69 158.92 572.67 158.72 573.64 158.54C574.62 158.36 575.6 158.2 576.58 158.07C577.56 157.93 578.54 157.82 579.53 157.74C580.51 157.65 581.5 157.58 582.49 157.54C583.48 157.5 584.47 157.49 585.46 157.5C586.45 157.5 587.45 157.53 588.44 157.57C589.44 157.61 590.44 157.67 591.43 157.73C592.43 157.8 593.43 157.88 594.43 157.96C595.43 158.04 596.44 158.13 597.44 158.21C598.44 158.3 599.45 158.38 600.45 158.47C601.46 158.55 602.47 158.63 603.47 158.7C604.48 158.78 605.49 158.85 606.5 158.92C607.51 159 608.52 159.06 609.53 159.13C610.54 159.2 611.56 159.26 612.57 159.32C613.58 159.38 614.59 159.44 615.61 159.5C616.62 159.56 617.63 159.61 618.65 159.67C619.66 159.72 620.68 159.77 621.69 159.82C622.71 159.87 623.72 159.92 624.74 159.96C625.75 160.01 626.77 160.05 627.78 160.1C628.8 160.14 629.81 160.18 630.83 160.22C631.84 160.26 632.86 160.3 633.87 160.34C634.89 160.38 635.9 160.41 636.92 160.45C637.93 160.48 638.95 160.52 639.96 160.55C640.97 160.58 641.99 160.61 643 160.65C644.01 160.68 645.02 160.71 646.03 160.74C647.04 160.77 648.05 160.8 649.06 160.83C650.07 160.85 651.08 160.88 652.09 160.91C653.1 160.94 654.1 160.97 655.11 160.99C656.11 161.02 657.12 161.05 658.12 161.07C659.13 161.1 660.13 161.13 661.13 161.15C662.13 161.18 663.13 161.21 664.13 161.24C665.12 161.26 666.12 161.29 667.12 161.32C668.11 161.35 669.6 161.39 670.1 161.4" stroke="#FEC87F"/>
<path d="M393.4 153.3C393.71 152.89 394.65 151.67 395.26 150.84C395.86 150.02 396.45 149.19 397.03 148.36C397.61 147.53 398.17 146.69 398.73 145.85C399.29 145.01 399.84 144.17 400.39 143.32C400.93 142.48 401.47 141.63 402.02 140.78C402.56 139.93 403.1 139.08 403.64 138.22C404.19 137.37 404.73 136.52 405.29 135.66C405.84 134.81 406.4 133.95 406.97 133.1C407.55 132.25 408.12 131.4 408.72 130.57C409.32 129.73 409.92 128.9 410.55 128.09C411.18 127.28 411.82 126.48 412.48 125.71C413.15 124.95 413.83 124.19 414.55 123.48C415.26 122.76 415.99 122.07 416.76 121.42C417.52 120.78 418.31 120.16 419.13 119.59C419.96 119.02 420.82 118.49 421.7 118.01C422.59 117.53 423.51 117.1 424.46 116.71C425.4 116.33 426.37 115.99 427.35 115.69C428.33 115.4 429.34 115.16 430.35 114.96C431.36 114.76 432.38 114.61 433.41 114.5C434.43 114.4 435.47 114.34 436.49 114.33C437.52 114.32 438.55 114.36 439.57 114.44C440.58 114.53 441.59 114.67 442.58 114.84C443.58 115.02 444.56 115.25 445.53 115.52C446.5 115.78 447.45 116.09 448.4 116.44C449.35 116.78 450.28 117.16 451.21 117.56C452.13 117.97 453.04 118.41 453.95 118.87C454.85 119.33 455.75 119.82 456.63 120.32C457.52 120.82 458.39 121.35 459.26 121.88C460.13 122.42 460.99 122.97 461.84 123.53C462.69 124.08 463.53 124.66 464.37 125.23C465.21 125.81 466.04 126.4 466.87 127C467.7 127.59 468.52 128.19 469.34 128.8C470.16 129.41 470.97 130.02 471.78 130.64C472.59 131.26 473.4 131.88 474.21 132.5C475.01 133.13 475.81 133.75 476.62 134.38C477.42 135 478.22 135.63 479.03 136.26C479.83 136.88 480.63 137.51 481.44 138.13C482.24 138.75 483.05 139.37 483.86 139.98C484.67 140.59 485.48 141.2 486.29 141.81C487.11 142.41 487.92 143.01 488.75 143.6C489.57 144.18 490.4 144.77 491.23 145.34C492.06 145.91 492.9 146.47 493.75 147.02C494.6 147.57 495.45 148.11 496.31 148.64C497.17 149.16 498.04 149.68 498.92 150.18C499.79 150.67 500.68 151.16 501.58 151.63C502.47 152.1 503.38 152.55 504.29 153C505.2 153.44 506.12 153.88 507.04 154.31C507.96 154.75 508.88 155.18 509.8 155.61C510.72 156.04 511.65 156.48 512.56 156.92C513.48 157.36 514.4 157.81 515.31 158.28C516.21 158.74 517.12 159.21 518.01 159.71C518.9 160.21 519.78 160.72 520.65 161.26C521.52 161.8 522.37 162.36 523.21 162.95C524.06 163.53 524.88 164.16 525.7 164.78C526.51 165.41 527.32 166.06 528.12 166.7C528.92 167.34 529.71 167.99 530.5 168.61C531.3 169.24 532.08 169.86 532.88 170.45C533.67 171.04 534.47 171.54 535.27 172.15C536.07 172.76 537.3 173.77 537.7 174.1L537.7 174.1L539.4 172L539.41 172C539.86 171.83 541.22 171.36 542.14 171.01C543.05 170.66 543.97 170.29 544.89 169.91C545.81 169.53 546.73 169.14 547.66 168.73C548.58 168.33 549.51 167.91 550.44 167.49C551.38 167.07 552.31 166.64 553.25 166.21C554.19 165.78 555.13 165.35 556.07 164.92C557.02 164.49 557.96 164.05 558.91 163.63C559.86 163.21 560.82 162.79 561.77 162.39C562.73 161.98 563.68 161.58 564.64 161.2C565.6 160.82 566.56 160.45 567.53 160.1C568.49 159.74 569.46 159.4 570.43 159.07C571.4 158.74 572.37 158.43 573.34 158.12C574.32 157.82 575.29 157.53 576.27 157.25C577.25 156.98 578.23 156.71 579.21 156.46C580.19 156.21 581.18 155.97 582.16 155.75C583.15 155.53 584.14 155.31 585.13 155.12C586.12 154.92 587.11 154.73 588.1 154.56C589.09 154.39 590.09 154.23 591.08 154.08C592.08 153.94 593.08 153.8 594.08 153.68C595.08 153.56 596.08 153.45 597.08 153.36C598.08 153.27 599.08 153.19 600.09 153.12C601.09 153.05 602.1 152.99 603.1 152.95C604.11 152.91 605.12 152.87 606.13 152.85C607.14 152.83 608.15 152.82 609.16 152.81C610.17 152.81 611.18 152.81 612.19 152.83C613.21 152.84 614.22 152.86 615.23 152.89C616.25 152.91 617.26 152.95 618.28 152.99C619.29 153.02 620.31 153.07 621.33 153.12C622.34 153.16 623.36 153.22 624.38 153.27C625.4 153.33 626.41 153.38 627.43 153.44C628.45 153.5 629.47 153.56 630.49 153.62C631.51 153.68 632.53 153.74 633.55 153.8C634.57 153.86 635.58 153.92 636.6 153.98C637.62 154.03 638.64 154.09 639.66 154.14C640.68 154.19 641.7 154.24 642.72 154.28C643.74 154.33 644.76 154.37 645.77 154.42C646.79 154.46 647.81 154.5 648.83 154.54C649.85 154.59 650.86 154.63 651.88 154.67C652.9 154.71 653.91 154.76 654.93 154.8C655.94 154.85 656.96 154.9 657.97 154.95C658.99 155 660 155.06 661.01 155.12C662.02 155.18 663.04 155.24 664.05 155.31C665.06 155.38 666.07 155.45 667.08 155.54C668.09 155.62 669.6 155.76 670.1 155.8" stroke="#FE874B"/>
<path d="M393.73 137.6C393.74 137.1 393.61 135.58 393.8 134.62C394 133.66 394.43 132.74 394.89 131.83C395.36 130.93 395.98 130.06 396.58 129.2C397.18 128.34 397.85 127.5 398.46 126.66C399.08 125.82 399.71 125 400.28 124.17C400.84 123.34 401.34 122.52 401.84 121.69C402.34 120.85 402.8 120.01 403.28 119.15C403.77 118.3 404.25 117.43 404.74 116.56C405.23 115.69 405.73 114.8 406.23 113.92C406.74 113.05 407.25 112.16 407.78 111.28C408.3 110.41 408.84 109.53 409.39 108.66C409.94 107.8 410.51 106.93 411.09 106.09C411.67 105.25 412.27 104.41 412.89 103.6C413.51 102.78 414.14 101.98 414.8 101.21C415.46 100.43 416.14 99.68 416.85 98.95C417.56 98.23 418.28 97.52 419.04 96.86C419.8 96.19 420.58 95.56 421.4 94.96C422.21 94.36 423.05 93.8 423.91 93.27C424.77 92.74 425.66 92.25 426.57 91.79C427.48 91.34 428.41 90.92 429.35 90.54C430.29 90.17 431.26 89.82 432.23 89.52C433.2 89.22 434.19 88.96 435.18 88.74C436.18 88.52 437.19 88.34 438.2 88.2C439.21 88.06 440.23 87.97 441.25 87.91C442.27 87.86 443.29 87.85 444.32 87.88C445.34 87.91 446.36 87.98 447.38 88.09C448.39 88.2 449.4 88.35 450.41 88.54C451.41 88.73 452.41 88.96 453.39 89.22C454.38 89.49 455.35 89.79 456.31 90.13C457.26 90.46 458.21 90.84 459.13 91.24C460.06 91.65 460.96 92.09 461.85 92.56C462.74 93.02 463.6 93.53 464.45 94.05C465.31 94.58 466.14 95.13 466.97 95.71C467.79 96.28 468.6 96.88 469.41 97.48C470.21 98.09 471 98.73 471.79 99.36C472.57 100 473.35 100.66 474.12 101.32C474.9 101.98 475.67 102.65 476.44 103.31C477.21 103.98 477.98 104.66 478.75 105.33C479.52 106 480.29 106.67 481.07 107.34C481.85 108 482.63 108.66 483.42 109.3C484.2 109.95 485 110.59 485.8 111.21C486.61 111.84 487.42 112.46 488.24 113.06C489.05 113.67 489.88 114.27 490.7 114.86C491.53 115.45 492.36 116.03 493.2 116.6C494.04 117.18 494.88 117.74 495.73 118.3C496.58 118.87 497.43 119.42 498.28 119.97C499.13 120.52 499.99 121.06 500.85 121.6C501.7 122.13 502.57 122.67 503.43 123.19C504.29 123.72 505.15 124.24 506.01 124.75C506.87 125.26 507.73 125.75 508.58 126.25C509.43 126.75 510.28 127.24 511.13 127.77C511.97 128.31 512.81 128.86 513.64 129.44C514.47 130.03 515.29 130.66 516.1 131.3C516.91 131.94 517.72 132.61 518.5 133.29C519.29 133.97 520.07 134.67 520.83 135.37C521.6 136.07 522.34 136.78 523.08 137.49C523.81 138.2 524.52 138.91 525.24 139.61C525.96 140.3 526.66 141 527.39 141.68C528.11 142.36 528.83 143.03 529.58 143.68C530.33 144.33 531.08 144.97 531.88 145.57C532.68 146.18 533.5 146.77 534.37 147.32C535.24 147.88 536.65 148.64 537.1 148.9L537.1 148.9L538 148.6L538.9 150.9L539.8 148L539.81 147.99C540.29 147.95 541.73 147.78 542.7 147.71C543.66 147.63 544.63 147.59 545.6 147.53C546.56 147.46 547.53 147.42 548.5 147.33C549.47 147.24 550.44 147.15 551.4 147C552.37 146.85 553.34 146.66 554.31 146.44C555.28 146.22 556.25 145.95 557.23 145.68C558.2 145.41 559.17 145.11 560.14 144.81C561.12 144.51 562.09 144.19 563.06 143.89C564.04 143.58 565.01 143.28 565.99 142.98C566.96 142.68 567.94 142.39 568.91 142.11C569.89 141.82 570.86 141.54 571.84 141.27C572.82 140.99 573.8 140.72 574.78 140.46C575.75 140.2 576.73 139.95 577.71 139.7C578.69 139.45 579.67 139.21 580.65 138.98C581.63 138.75 582.61 138.52 583.6 138.31C584.58 138.09 585.56 137.88 586.54 137.68C587.52 137.48 588.51 137.29 589.49 137.1C590.47 136.92 591.46 136.74 592.44 136.58C593.43 136.41 594.41 136.25 595.4 136.11C596.38 135.96 597.37 135.82 598.36 135.69C599.34 135.56 600.33 135.45 601.32 135.34C602.31 135.23 603.29 135.13 604.28 135.04C605.27 134.95 606.26 134.88 607.25 134.8C608.24 134.73 609.23 134.67 610.22 134.62C611.21 134.56 612.2 134.52 613.19 134.48C614.18 134.44 615.17 134.41 616.17 134.38C617.16 134.36 618.15 134.34 619.14 134.33C620.14 134.32 621.13 134.32 622.12 134.32C623.12 134.32 624.11 134.33 625.1 134.34C626.1 134.35 627.09 134.37 628.09 134.39C629.08 134.42 630.08 134.44 631.08 134.48C632.07 134.51 633.07 134.54 634.07 134.58C635.06 134.62 636.06 134.67 637.06 134.72C638.06 134.76 639.05 134.81 640.05 134.87C641.05 134.92 642.05 134.97 643.05 135.03C644.05 135.09 645.05 135.15 646.05 135.21C647.05 135.27 648.05 135.34 649.05 135.4C650.05 135.46 651.05 135.53 652.05 135.59C653.05 135.66 654.05 135.72 655.05 135.79C656.06 135.85 657.06 135.92 658.06 135.99C659.06 136.05 660.06 136.11 661.07 136.18C662.07 136.24 663.07 136.3 664.08 136.36C665.08 136.42 666.09 136.48 667.09 136.54C668.09 136.59 669.6 136.67 670.1 136.7" stroke="#F62411"/>
<path d="M393.73 159.4C393.74 158.93 393.6 157.51 393.79 156.58C393.97 155.65 394.39 154.73 394.83 153.82C395.28 152.91 395.88 152.01 396.45 151.11C397.01 150.22 397.64 149.33 398.21 148.45C398.79 147.57 399.35 146.7 399.9 145.83C400.45 144.96 400.98 144.09 401.52 143.23C402.05 142.36 402.57 141.5 403.09 140.64C403.61 139.78 404.12 138.93 404.64 138.07C405.16 137.21 405.68 136.35 406.2 135.49C406.73 134.63 407.26 133.77 407.8 132.91C408.35 132.05 408.89 131.19 409.46 130.34C410.03 129.5 410.6 128.65 411.2 127.83C411.8 127.01 412.41 126.2 413.05 125.41C413.69 124.63 414.35 123.86 415.04 123.13C415.73 122.4 416.44 121.69 417.19 121.02C417.93 120.35 418.7 119.71 419.51 119.12C420.33 118.53 421.17 117.98 422.05 117.47C422.93 116.97 423.84 116.5 424.77 116.09C425.71 115.67 426.67 115.3 427.65 114.98C428.63 114.66 429.63 114.38 430.63 114.15C431.64 113.92 432.66 113.73 433.68 113.59C434.71 113.46 435.74 113.37 436.76 113.33C437.79 113.28 438.82 113.29 439.83 113.35C440.84 113.4 441.85 113.51 442.85 113.66C443.84 113.81 444.82 114.02 445.79 114.25C446.76 114.49 447.72 114.77 448.67 115.08C449.63 115.39 450.57 115.74 451.5 116.11C452.44 116.48 453.36 116.88 454.29 117.3C455.21 117.71 456.12 118.15 457.04 118.6C457.95 119.05 458.85 119.52 459.76 119.99C460.66 120.46 461.56 120.94 462.46 121.42C463.36 121.9 464.26 122.39 465.15 122.88C466.04 123.37 466.94 123.86 467.83 124.36C468.71 124.86 469.6 125.37 470.49 125.87C471.37 126.38 472.26 126.89 473.14 127.4C474.02 127.91 474.91 128.43 475.79 128.94C476.67 129.46 477.54 129.98 478.42 130.49C479.3 131.01 480.18 131.53 481.06 132.05C481.93 132.57 482.81 133.09 483.69 133.61C484.56 134.13 485.44 134.64 486.31 135.16C487.19 135.68 488.07 136.19 488.94 136.71C489.82 137.22 490.7 137.73 491.57 138.24C492.45 138.75 493.33 139.25 494.21 139.76C495.09 140.26 495.97 140.76 496.85 141.25C497.73 141.75 498.61 142.24 499.5 142.72C500.38 143.21 501.27 143.69 502.15 144.17C503.04 144.64 503.93 145.11 504.82 145.58C505.71 146.05 506.6 146.52 507.49 146.99C508.38 147.46 509.27 147.93 510.16 148.4C511.04 148.87 511.93 149.35 512.82 149.83C513.71 150.31 514.59 150.8 515.47 151.29C516.36 151.79 517.24 152.29 518.12 152.81C519 153.32 519.87 153.84 520.74 154.38C521.61 154.92 522.48 155.47 523.35 156.03C524.21 156.6 525.07 157.18 525.93 157.77C526.78 158.36 527.63 158.97 528.48 159.58C529.32 160.19 530.16 160.8 530.99 161.41C531.82 162.02 532.65 162.63 533.47 163.22C534.29 163.81 535.1 164.4 535.91 164.97C536.71 165.53 537.9 166.33 538.3 166.6L538.3 166.6L539.4 164.9L539.4 164.9C539.87 164.75 541.28 164.29 542.23 163.98C543.17 163.66 544.12 163.34 545.06 163.01C546.01 162.68 546.96 162.34 547.91 162.01C548.87 161.67 549.82 161.33 550.78 161C551.73 160.66 552.69 160.33 553.65 160C554.61 159.67 555.57 159.34 556.54 159.03C557.5 158.71 558.47 158.4 559.43 158.1C560.4 157.8 561.37 157.52 562.34 157.24C563.31 156.97 564.28 156.71 565.26 156.47C566.23 156.22 567.21 156 568.18 155.78C569.16 155.57 570.14 155.37 571.12 155.18C572.1 154.99 573.08 154.82 574.06 154.66C575.04 154.5 576.03 154.35 577.01 154.21C578 154.07 578.99 153.95 579.97 153.84C580.96 153.72 581.95 153.62 582.94 153.52C583.93 153.43 584.92 153.35 585.91 153.27C586.91 153.2 587.9 153.14 588.89 153.09C589.89 153.04 590.88 153 591.88 152.98C592.87 152.95 593.87 152.94 594.87 152.94C595.87 152.94 596.87 152.96 597.86 152.99C598.86 153.02 599.86 153.06 600.87 153.12C601.87 153.18 602.87 153.25 603.87 153.33C604.87 153.42 605.87 153.51 606.88 153.61C607.88 153.71 608.88 153.82 609.89 153.93C610.89 154.04 611.9 154.16 612.9 154.28C613.91 154.4 614.91 154.52 615.92 154.64C616.92 154.76 617.93 154.89 618.94 155C619.94 155.12 620.95 155.23 621.96 155.33C622.96 155.44 623.97 155.53 624.98 155.62C625.98 155.71 626.99 155.79 628 155.86C629.01 155.93 630.01 155.99 631.02 156.04C632.03 156.09 633.03 156.14 634.04 156.17C635.05 156.21 636.05 156.24 637.06 156.26C638.07 156.28 639.07 156.29 640.08 156.29C641.08 156.3 642.09 156.3 643.1 156.29C644.1 156.29 645.11 156.27 646.11 156.26C647.11 156.25 648.12 156.23 649.12 156.22C650.13 156.21 651.13 156.19 652.13 156.19C653.13 156.18 654.14 156.17 655.14 156.17C656.14 156.17 657.14 156.17 658.14 156.18C659.14 156.2 660.14 156.22 661.14 156.25C662.13 156.28 663.13 156.33 664.13 156.38C665.13 156.44 666.12 156.51 667.12 156.59C668.11 156.68 669.6 156.85 670.1 156.9" stroke="#5F3099"/>
</g>
<path d="M393.49 187.13L396.5 178.17M396.25 172.95L397.33 164.45M398.34 158.15L399.53 149.65M400.23 143.95L401.42 135.45M401.52 129.75L402.82 120.95M403.51 115.35L404.92 106.45M406 101.24L407.52 92.56M408.58 86.94L410.42 78.66M411.95 73.64L414.33 65.16M415.91 61.53L419.24 52.67M421.43 50.1L423.8 46.3L426.33 45.49M429.28 43.57L433.67 41.2L436.79 42.32M440.66 42.41L444.14 44.7L448.66 45.89M451.97 49.15L458.34 55.65M461.08 59.82L466.58 67.28M469.07 71.61L470.95 74.5L474.02 79.9M476.04 84.31L481.42 92.19M483.05 96.89L487.67 105.31M489.84 109.99L493.94 118.21M495.81 122.89L500.23 131.21M502.2 136.09L506.2 144.31M508.19 149.18L512.27 157.82M514.68 162.78L518.14 170.92M519 175.97L521.8 184.93M523.09 189.97L525.78 198.73M527.18 203.86L529.77 212.84M530.97 217.86L533.55 226.84M534.95 231.97L537.65 240.83M538 236.85L538.49 232.7L539.34 232.5L543.26 233.7M545.23 229L550.59 220.5M552.61 216.29L558.07 207.81M560.33 203.85L567.1 196.95M570.72 193.43L579.73 189.67M584.25 188.53L593.22 187.87M598.21 188.13L607.86 190.17M612.77 190.91L622.11 193.39M627.02 194.43L636.37 196.47M640.97 197.36L650.43 198.54M655.22 198.86L665.19 199.94" stroke="#000" stroke-width="1.4" fill="none" stroke-linejoin="miter"/>
<path d="M441 254.5v-3.2M441 16.75v3.2M488.4 254.5v-3.2M488.4 16.75v3.2M535.5 254.5v-3.2M535.5 16.75v3.2M582.7 254.5v-3.2M582.7 16.75v3.2M630.4 254.5v-3.2M630.4 16.75v3.2M393.5 204.45h3.2M677.5 204.45h-3.2M393.5 154.4h3.2M677.5 154.4h-3.2M393.5 104.45h3.2M677.5 104.45h-3.2M393.5 54.45h3.2M677.5 54.45h-3.2" stroke="#404040" stroke-width="0.62" fill="none"/>
<rect x="393.5" y="16.75" width="284" height="237.75" fill="none" stroke="#404040" stroke-width="0.62"/>
<g fill="#262626">
<text letter-spacing="-0.2" transform="translate(392.5 272.1) scale(0.93 1)" font-size="13.1" text-anchor="middle">0</text>
<text letter-spacing="-0.2" transform="translate(440 272.1) scale(0.93 1)" font-size="13.1" text-anchor="middle">0.1</text>
<text letter-spacing="-0.2" transform="translate(487.4 272.1) scale(0.93 1)" font-size="13.1" text-anchor="middle">0.2</text>
<text letter-spacing="-0.2" transform="translate(534.5 272.1) scale(0.93 1)" font-size="13.1" text-anchor="middle">0.3</text>
<text letter-spacing="-0.2" transform="translate(581.7 272.1) scale(0.93 1)" font-size="13.1" text-anchor="middle">0.4</text>
<text letter-spacing="-0.2" transform="translate(629.4 272.1) scale(0.93 1)" font-size="13.1" text-anchor="middle">0.5</text>
<text letter-spacing="-0.2" transform="translate(676.5 272.1) scale(0.93 1)" font-size="13.1" text-anchor="middle">0.6</text>
<text letter-spacing="-0.2" transform="translate(387.2 260) scale(0.93 1)" font-size="13.1" text-anchor="end">60</text>
<text letter-spacing="-0.2" transform="translate(387.2 209.95) scale(0.93 1)" font-size="13.1" text-anchor="end">80</text>
<text letter-spacing="-0.2" transform="translate(386.2 159.9) scale(0.93 1)" font-size="13.1" text-anchor="end">100</text>
<text letter-spacing="-0.2" transform="translate(386.2 109.95) scale(0.93 1)" font-size="13.1" text-anchor="end">120</text>
<text letter-spacing="-0.2" transform="translate(386.2 59.95) scale(0.93 1)" font-size="13.1" text-anchor="end">140</text>
<text transform="translate(534.5 289.9) scale(1.005 1)" font-size="13.4" text-anchor="middle">Time [s]</text>
<text transform="translate(360.8 141.03) rotate(-90) scale(1.005 1)" font-size="13.4" text-anchor="middle">Pressure [mmHg]</text>
<text class="t" transform="translate(361.5 11) scale(1.005 1)" font-size="13.4" fill="#000">Central aortic pressures during 75% VA ECMO support</text>
</g>
</g>
<g>
<path d="M91 333.5V571.25M138.5 333.5V571.25M186 333.5V571.25M233.5 333.5V571.25M280.5 333.5V571.25M43.5 521.2H328.4M43.5 471.15H328.4M43.5 421H328.4M43.5 370.9H328.4" stroke="#e2e2e2" stroke-width="0.7" fill="none"/>
<g fill="none" stroke-width="2.45" stroke-linejoin="round">
<path d="M43.9 465.7C44.33 465.49 45.6 464.89 46.45 464.43C47.3 463.97 48.15 463.46 49 462.94C49.85 462.42 50.71 461.86 51.57 461.3C52.43 460.74 53.29 460.16 54.16 459.59C55.03 459.02 55.9 458.44 56.79 457.88C57.67 457.33 58.56 456.77 59.46 456.26C60.36 455.74 61.27 455.24 62.19 454.79C63.11 454.34 64.05 453.92 64.99 453.56C65.93 453.2 66.89 452.89 67.86 452.62C68.83 452.35 69.81 452.13 70.79 451.93C71.77 451.74 72.77 451.58 73.77 451.44C74.76 451.3 75.77 451.2 76.77 451.1C77.78 450.99 78.79 450.92 79.79 450.83C80.8 450.75 81.8 450.67 82.81 450.59C83.81 450.51 84.81 450.43 85.81 450.36C86.81 450.3 87.81 450.24 88.81 450.22C89.81 450.19 90.8 450.19 91.79 450.22C92.79 450.26 93.78 450.33 94.77 450.42C95.76 450.52 96.75 450.65 97.74 450.8C98.73 450.95 99.72 451.14 100.7 451.33C101.69 451.53 102.68 451.75 103.66 451.99C104.65 452.22 105.64 452.48 106.62 452.74C107.61 452.99 108.59 453.27 109.58 453.55C110.56 453.82 111.55 454.11 112.53 454.39C113.52 454.67 114.5 454.96 115.49 455.23C116.48 455.51 117.46 455.79 118.45 456.06C119.44 456.33 120.43 456.6 121.41 456.86C122.4 457.12 123.39 457.38 124.38 457.63C125.37 457.88 126.36 458.13 127.35 458.38C128.33 458.62 129.32 458.86 130.31 459.1C131.3 459.33 132.29 459.56 133.28 459.79C134.27 460.02 135.26 460.24 136.25 460.46C137.25 460.68 138.24 460.89 139.23 461.1C140.22 461.31 141.21 461.52 142.2 461.72C143.19 461.92 144.18 462.12 145.17 462.31C146.16 462.51 147.15 462.7 148.14 462.88C149.14 463.07 150.13 463.25 151.12 463.42C152.11 463.6 153.1 463.77 154.09 463.94C155.08 464.11 156.07 464.27 157.06 464.44C158.05 464.6 159.04 464.75 160.03 464.91C161.02 465.07 162.01 465.22 163 465.38C163.99 465.54 164.98 465.7 165.97 465.86C166.95 466.02 167.94 466.19 168.93 466.36C169.92 466.53 170.91 466.71 171.89 466.9C172.88 467.09 173.87 467.28 174.85 467.49C175.84 467.7 176.82 467.91 177.81 468.15C178.79 468.38 179.78 468.62 180.76 468.88C181.75 469.14 182.73 469.41 183.71 469.71C184.7 470 185.68 470.31 186.66 470.64C187.64 470.98 189.11 471.52 189.6 471.7L189.6 471.7L192.5 470.1L192.5 470.1C193 470.02 194.5 469.76 195.51 469.58C196.51 469.39 197.51 469.2 198.52 469.01C199.52 468.82 200.53 468.63 201.54 468.44C202.54 468.25 203.55 468.05 204.56 467.87C205.56 467.68 206.57 467.5 207.58 467.32C208.59 467.15 209.6 466.98 210.61 466.82C211.62 466.66 212.63 466.5 213.64 466.36C214.65 466.22 215.66 466.1 216.68 465.98C217.69 465.86 218.7 465.76 219.71 465.67C220.73 465.58 221.74 465.5 222.76 465.43C223.77 465.36 224.78 465.3 225.8 465.25C226.81 465.2 227.83 465.16 228.85 465.13C229.86 465.09 230.88 465.06 231.9 465.04C232.91 465.02 233.93 465.01 234.95 465C235.97 464.98 236.98 464.98 238 464.98C239.02 464.97 240.04 464.97 241.06 464.98C242.08 464.98 243.1 464.99 244.12 464.99C245.14 465 246.16 465.01 247.18 465.02C248.2 465.04 249.22 465.05 250.24 465.07C251.26 465.09 252.28 465.1 253.3 465.12C254.32 465.14 255.34 465.17 256.37 465.19C257.39 465.21 258.41 465.24 259.43 465.27C260.45 465.29 261.48 465.32 262.5 465.35C263.52 465.38 264.54 465.41 265.56 465.44C266.59 465.47 267.61 465.51 268.63 465.54C269.65 465.57 270.68 465.61 271.7 465.64C272.72 465.68 273.74 465.71 274.77 465.75C275.79 465.78 276.81 465.82 277.84 465.85C278.86 465.89 279.88 465.93 280.9 465.96C281.93 466 282.95 466.03 283.97 466.07C284.99 466.11 286.02 466.14 287.04 466.18C288.06 466.21 289.08 466.25 290.1 466.28C291.13 466.31 292.15 466.35 293.17 466.38C294.19 466.41 295.21 466.44 296.24 466.48C297.26 466.51 298.28 466.54 299.3 466.56C300.32 466.59 301.34 466.62 302.36 466.64C303.38 466.67 304.4 466.69 305.42 466.72C306.44 466.74 307.46 466.76 308.48 466.78C309.5 466.8 310.52 466.81 311.54 466.83C312.56 466.84 313.58 466.85 314.59 466.86C315.61 466.88 316.63 466.88 317.65 466.89C318.67 466.89 320.19 466.9 320.7 466.9" stroke="#FEC87F"/>
<path d="M43.9 455.1C44.35 454.9 45.71 454.33 46.59 453.89C47.46 453.45 48.32 452.96 49.18 452.46C50.03 451.95 50.87 451.41 51.7 450.85C52.54 450.3 53.36 449.72 54.18 449.14C55.01 448.56 55.82 447.96 56.65 447.37C57.47 446.77 58.29 446.17 59.12 445.59C59.95 445 60.78 444.42 61.62 443.86C62.47 443.3 63.32 442.75 64.19 442.23C65.05 441.72 65.93 441.23 66.83 440.76C67.72 440.3 68.63 439.87 69.55 439.47C70.47 439.06 71.4 438.69 72.34 438.34C73.28 437.99 74.23 437.67 75.19 437.38C76.15 437.08 77.11 436.82 78.08 436.58C79.05 436.34 80.03 436.13 81.01 435.95C81.99 435.76 82.97 435.6 83.95 435.47C84.94 435.34 85.93 435.23 86.92 435.15C87.9 435.07 88.9 435.01 89.89 434.98C90.88 434.94 91.87 434.93 92.87 434.94C93.86 434.95 94.85 434.98 95.85 435.04C96.84 435.09 97.84 435.17 98.83 435.26C99.82 435.35 100.81 435.47 101.8 435.6C102.79 435.74 103.78 435.89 104.77 436.06C105.76 436.24 106.74 436.43 107.73 436.65C108.71 436.86 109.69 437.1 110.66 437.35C111.64 437.61 112.61 437.88 113.58 438.18C114.55 438.47 115.52 438.79 116.48 439.13C117.44 439.46 118.39 439.82 119.35 440.18C120.3 440.54 121.25 440.92 122.2 441.3C123.14 441.68 124.09 442.07 125.03 442.46C125.97 442.85 126.91 443.24 127.84 443.63C128.78 444.01 129.71 444.4 130.64 444.78C131.58 445.16 132.51 445.53 133.43 445.9C134.36 446.27 135.29 446.64 136.22 447C137.14 447.35 138.07 447.71 139 448.06C139.92 448.4 140.85 448.74 141.77 449.08C142.7 449.42 143.62 449.75 144.55 450.08C145.47 450.41 146.4 450.74 147.33 451.07C148.26 451.4 149.18 451.73 150.11 452.06C151.04 452.39 151.98 452.72 152.91 453.05C153.84 453.39 154.78 453.73 155.72 454.08C156.65 454.42 157.59 454.77 158.53 455.13C159.48 455.48 160.42 455.84 161.37 456.21C162.31 456.57 163.26 456.94 164.2 457.31C165.15 457.68 166.1 458.05 167.05 458.42C168 458.79 168.95 459.17 169.89 459.54C170.84 459.91 171.79 460.29 172.74 460.66C173.69 461.03 174.63 461.41 175.58 461.78C176.52 462.14 177.47 462.51 178.41 462.88C179.35 463.24 180.29 463.6 181.23 463.95C182.17 464.31 183.11 464.66 184.04 465.01C184.97 465.35 185.9 465.69 186.83 466.02C187.76 466.36 189.14 466.84 189.6 467L189.6 467L191.9 466L191.9 466C192.4 466 193.88 466.04 194.86 466.02C195.85 465.99 196.84 465.92 197.82 465.83C198.81 465.74 199.8 465.62 200.78 465.49C201.77 465.35 202.76 465.19 203.75 465.02C204.74 464.85 205.73 464.65 206.71 464.46C207.7 464.26 208.69 464.05 209.68 463.84C210.67 463.64 211.66 463.42 212.65 463.21C213.64 462.99 214.63 462.78 215.62 462.56C216.61 462.34 217.6 462.11 218.6 461.89C219.59 461.66 220.58 461.43 221.57 461.2C222.56 460.97 223.55 460.73 224.55 460.5C225.54 460.26 226.53 460.03 227.52 459.8C228.52 459.58 229.51 459.36 230.5 459.15C231.5 458.95 232.49 458.76 233.49 458.58C234.48 458.4 235.48 458.25 236.47 458.1C237.47 457.96 238.46 457.83 239.46 457.71C240.45 457.59 241.45 457.48 242.44 457.37C243.44 457.27 244.44 457.17 245.43 457.07C246.43 456.97 247.43 456.88 248.42 456.79C249.42 456.69 250.42 456.6 251.41 456.51C252.41 456.42 253.41 456.33 254.41 456.25C255.41 456.16 256.41 456.08 257.4 456C258.4 455.92 259.4 455.84 260.4 455.76C261.4 455.69 262.4 455.61 263.4 455.54C264.4 455.47 265.4 455.4 266.4 455.33C267.4 455.26 268.4 455.2 269.4 455.14C270.41 455.08 271.41 455.02 272.41 454.96C273.41 454.9 274.41 454.85 275.41 454.8C276.42 454.75 277.42 454.7 278.42 454.66C279.43 454.61 280.43 454.57 281.43 454.53C282.44 454.49 283.44 454.45 284.44 454.42C285.45 454.39 286.45 454.36 287.46 454.33C288.46 454.3 289.46 454.28 290.47 454.26C291.47 454.24 292.48 454.22 293.49 454.2C294.49 454.19 295.5 454.18 296.5 454.17C297.51 454.16 298.52 454.16 299.52 454.16C300.53 454.16 301.54 454.16 302.54 454.17C303.55 454.18 304.56 454.19 305.57 454.2C306.57 454.21 307.58 454.23 308.59 454.25C309.6 454.28 310.61 454.3 311.62 454.33C312.62 454.36 313.63 454.39 314.64 454.43C315.65 454.47 316.66 454.51 317.67 454.55C318.68 454.6 320.2 454.67 320.7 454.7" stroke="#FE874B"/>
<path d="M43.91 429.5C44.31 429.24 45.55 428.5 46.36 427.95C47.17 427.41 47.97 426.83 48.78 426.24C49.58 425.64 50.38 425.03 51.17 424.4C51.97 423.77 52.76 423.13 53.56 422.48C54.36 421.83 55.16 421.17 55.96 420.52C56.76 419.86 57.56 419.2 58.38 418.55C59.19 417.9 60 417.25 60.83 416.62C61.66 415.99 62.49 415.37 63.33 414.78C64.18 414.18 65.03 413.6 65.9 413.05C66.77 412.5 67.65 411.97 68.54 411.47C69.43 410.97 70.33 410.49 71.24 410.04C72.15 409.59 73.07 409.17 74 408.77C74.93 408.38 75.87 408.01 76.82 407.67C77.77 407.33 78.72 407.02 79.69 406.73C80.65 406.45 81.62 406.2 82.6 405.98C83.57 405.75 84.56 405.56 85.55 405.4C86.53 405.23 87.53 405.1 88.52 404.99C89.52 404.88 90.52 404.8 91.53 404.75C92.53 404.69 93.54 404.66 94.55 404.66C95.56 404.66 96.57 404.68 97.58 404.73C98.59 404.78 99.6 404.85 100.61 404.95C101.62 405.04 102.63 405.16 103.64 405.3C104.65 405.44 105.66 405.6 106.66 405.79C107.66 405.97 108.67 406.18 109.66 406.4C110.66 406.63 111.65 406.87 112.64 407.14C113.62 407.4 114.6 407.69 115.58 407.99C116.55 408.29 117.52 408.61 118.49 408.94C119.45 409.28 120.41 409.63 121.36 409.99C122.31 410.35 123.26 410.73 124.2 411.12C125.15 411.5 126.08 411.9 127.02 412.31C127.96 412.71 128.89 413.12 129.82 413.54C130.75 413.96 131.68 414.38 132.61 414.81C133.53 415.24 134.46 415.67 135.38 416.1C136.31 416.53 137.23 416.96 138.16 417.39C139.08 417.82 140 418.25 140.93 418.67C141.85 419.09 142.78 419.51 143.71 419.92C144.63 420.33 145.56 420.74 146.49 421.13C147.42 421.53 148.36 421.91 149.3 422.29C150.23 422.66 151.17 423.03 152.12 423.37C153.06 423.72 154.01 424.05 154.96 424.37C155.92 424.69 156.88 424.98 157.84 425.27C158.8 425.56 159.77 425.83 160.74 426.1C161.71 426.37 162.68 426.63 163.66 426.9C164.63 427.17 165.61 427.43 166.58 427.71C167.56 427.99 168.54 428.28 169.51 428.59C170.49 428.89 171.46 429.21 172.44 429.56C173.41 429.91 174.38 430.28 175.34 430.66C176.31 431.05 177.27 431.45 178.23 431.86C179.19 432.26 180.14 432.68 181.09 433.09C182.03 433.51 182.97 433.93 183.91 434.33C184.84 434.73 185.76 435.13 186.68 435.51C187.59 435.89 188.95 436.42 189.4 436.6L189.4 436.6L191.4 435L191.4 435C191.9 435.04 193.39 435.16 194.39 435.2C195.38 435.23 196.37 435.23 197.37 435.21C198.36 435.19 199.36 435.14 200.35 435.07C201.35 435 202.34 434.91 203.34 434.8C204.34 434.7 205.33 434.57 206.33 434.43C207.32 434.3 208.32 434.14 209.32 433.98C210.31 433.82 211.31 433.65 212.31 433.48C213.3 433.31 214.3 433.12 215.3 432.95C216.29 432.77 217.29 432.59 218.29 432.41C219.29 432.23 220.28 432.05 221.28 431.87C222.28 431.7 223.28 431.52 224.28 431.35C225.28 431.18 226.28 431.01 227.27 430.85C228.27 430.69 229.27 430.53 230.27 430.37C231.27 430.22 232.27 430.07 233.27 429.92C234.27 429.78 235.27 429.64 236.27 429.51C237.27 429.37 238.27 429.25 239.27 429.13C240.27 429.01 241.27 428.9 242.27 428.8C243.27 428.7 244.27 428.61 245.28 428.52C246.28 428.43 247.28 428.35 248.28 428.28C249.28 428.2 250.28 428.14 251.29 428.07C252.29 428.01 253.29 427.96 254.29 427.91C255.3 427.86 256.3 427.82 257.3 427.78C258.3 427.74 259.31 427.71 260.31 427.68C261.31 427.65 262.32 427.63 263.32 427.61C264.32 427.59 265.33 427.58 266.33 427.57C267.33 427.56 268.34 427.55 269.34 427.55C270.35 427.55 271.35 427.55 272.36 427.56C273.36 427.56 274.37 427.57 275.37 427.58C276.37 427.6 277.38 427.61 278.39 427.63C279.39 427.64 280.4 427.66 281.4 427.69C282.41 427.71 283.41 427.73 284.42 427.76C285.42 427.78 286.43 427.81 287.44 427.84C288.44 427.87 289.45 427.9 290.46 427.93C291.46 427.96 292.47 427.99 293.48 428.02C294.48 428.05 295.49 428.09 296.5 428.12C297.51 428.15 298.51 428.18 299.52 428.21C300.53 428.25 301.54 428.28 302.54 428.31C303.55 428.34 304.56 428.37 305.57 428.4C306.58 428.43 307.58 428.46 308.59 428.48C309.6 428.51 310.61 428.54 311.62 428.56C312.63 428.58 313.64 428.6 314.64 428.62C315.65 428.64 316.66 428.65 317.67 428.67C318.68 428.68 320.2 428.69 320.7 428.7" stroke="#F62411"/>
<path d="M43.9 451.1C44.36 450.95 45.72 450.53 46.61 450.17C47.51 449.81 48.39 449.39 49.28 448.94C50.16 448.49 51.04 447.99 51.92 447.49C52.8 446.98 53.68 446.44 54.56 445.9C55.44 445.36 56.33 444.8 57.22 444.26C58.11 443.72 59 443.17 59.9 442.65C60.8 442.13 61.71 441.62 62.62 441.16C63.54 440.7 64.47 440.26 65.4 439.87C66.34 439.49 67.29 439.15 68.24 438.84C69.2 438.54 70.17 438.28 71.14 438.05C72.11 437.81 73.09 437.62 74.08 437.45C75.06 437.27 76.06 437.13 77.05 437.01C78.04 436.88 79.04 436.78 80.04 436.69C81.04 436.59 82.05 436.52 83.05 436.45C84.05 436.38 85.05 436.32 86.06 436.27C87.06 436.23 88.06 436.19 89.07 436.16C90.07 436.14 91.08 436.13 92.08 436.12C93.09 436.12 94.09 436.13 95.1 436.16C96.1 436.18 97.1 436.22 98.11 436.27C99.11 436.32 100.12 436.38 101.12 436.46C102.12 436.53 103.13 436.62 104.13 436.73C105.13 436.83 106.13 436.95 107.13 437.09C108.13 437.22 109.13 437.37 110.13 437.54C111.13 437.7 112.12 437.88 113.12 438.08C114.11 438.28 115.11 438.49 116.1 438.72C117.09 438.95 118.09 439.2 119.08 439.46C120.07 439.71 121.05 439.98 122.04 440.26C123.03 440.53 124.02 440.82 125 441.11C125.99 441.39 126.97 441.69 127.95 441.98C128.94 442.27 129.92 442.56 130.9 442.84C131.88 443.13 132.86 443.41 133.84 443.68C134.82 443.96 135.8 444.22 136.78 444.47C137.76 444.72 138.74 444.96 139.72 445.19C140.69 445.41 141.67 445.62 142.65 445.83C143.63 446.03 144.6 446.22 145.58 446.41C146.56 446.6 147.53 446.78 148.51 446.97C149.49 447.16 150.46 447.34 151.44 447.53C152.42 447.72 153.4 447.91 154.37 448.11C155.35 448.32 156.33 448.53 157.31 448.75C158.28 448.97 159.26 449.2 160.24 449.44C161.22 449.68 162.2 449.93 163.18 450.18C164.16 450.43 165.14 450.69 166.12 450.94C167.1 451.2 168.09 451.46 169.07 451.72C170.05 451.97 171.04 452.23 172.02 452.48C173.01 452.74 173.99 452.99 174.98 453.23C175.97 453.48 176.96 453.71 177.95 453.94C178.94 454.17 179.93 454.39 180.92 454.6C181.91 454.81 182.91 455.01 183.91 455.19C184.9 455.37 185.9 455.54 186.9 455.7C187.9 455.85 189.4 456.03 189.9 456.1L189.9 456.1L192.2 454.6L192.2 454.6C192.69 454.46 194.18 454 195.17 453.75C196.16 453.5 197.15 453.3 198.15 453.13C199.14 452.95 200.13 452.82 201.12 452.7C202.12 452.58 203.11 452.5 204.1 452.43C205.1 452.36 206.09 452.32 207.09 452.28C208.08 452.25 209.08 452.24 210.07 452.23C211.07 452.22 212.06 452.22 213.06 452.23C214.05 452.23 215.05 452.24 216.04 452.24C217.04 452.25 218.04 452.25 219.03 452.24C220.03 452.24 221.03 452.22 222.02 452.2C223.02 452.17 224.02 452.12 225.02 452.08C226.01 452.03 227.01 451.97 228.01 451.92C229.01 451.86 230.01 451.8 231 451.75C232 451.7 233 451.65 234 451.61C235 451.58 236 451.55 237 451.54C237.99 451.54 238.99 451.55 239.99 451.58C240.99 451.61 241.99 451.66 242.99 451.72C243.99 451.77 244.99 451.84 245.99 451.89C246.99 451.94 247.99 451.99 248.98 452.02C249.98 452.04 250.98 452.05 251.98 452.03C252.98 452.01 253.98 451.97 254.98 451.91C255.98 451.86 256.98 451.78 257.98 451.69C258.98 451.6 259.98 451.49 260.98 451.39C261.98 451.28 262.98 451.16 263.97 451.04C264.97 450.92 265.97 450.79 266.97 450.68C267.97 450.56 268.97 450.44 269.97 450.33C270.97 450.22 271.97 450.12 272.96 450.03C273.96 449.94 274.96 449.86 275.96 449.8C276.96 449.74 277.96 449.7 278.95 449.68C279.95 449.67 280.95 449.67 281.95 449.7C282.94 449.73 283.94 449.79 284.94 449.86C285.93 449.94 286.93 450.03 287.93 450.14C288.92 450.25 289.92 450.38 290.92 450.51C291.91 450.64 292.91 450.79 293.9 450.94C294.9 451.09 295.89 451.25 296.89 451.41C297.88 451.57 298.88 451.74 299.87 451.9C300.87 452.07 301.86 452.24 302.86 452.4C303.85 452.56 304.84 452.73 305.83 452.88C306.83 453.03 307.82 453.19 308.81 453.33C309.8 453.47 310.8 453.6 311.79 453.72C312.78 453.84 313.77 453.95 314.76 454.04C315.75 454.14 316.74 454.22 317.73 454.28C318.72 454.33 320.2 454.38 320.7 454.4" stroke="#5F3099"/>
</g>
<path d="M43.49 503.83L46.51 494.87M46.26 489.65L47.34 481.15M48.35 474.85L49.55 466.35M50.25 460.65L51.45 452.15M51.55 446.45L52.85 437.65M53.55 432.05L54.95 423.15M56.04 417.94L57.56 409.26M58.62 403.64L60.48 395.36M62 390.34L64.4 381.86M65.98 378.23L69.32 369.37M71.51 366.8L73.9 363L76.43 362.19M79.39 360.27L83.8 357.9L86.93 359.02M90.81 359.11L94.3 361.4L98.84 362.59M102.15 365.85L108.55 372.35M111.29 376.52L116.81 383.98M119.31 388.31L121.2 391.2L124.27 396.6M126.3 401.01L131.7 408.89M133.33 413.59L137.97 422.01M140.14 426.69L144.26 434.91M146.14 439.59L150.56 447.91M152.55 452.79L156.55 461.01M158.55 465.88L162.65 474.52M165.06 479.48L168.54 487.62M169.4 492.67L172.2 501.63M173.5 506.67L176.2 515.43M177.6 520.56L180.2 529.54M181.4 534.56L184 543.54M185.4 548.67L188.1 557.53M188.46 553.55L188.95 549.4L189.8 549.2L193.73 550.4M195.71 545.7L201.09 537.2M203.11 532.99L208.59 524.51M210.85 520.55L217.65 513.65M221.28 510.13L230.32 506.37M234.85 505.23L243.85 504.57M248.86 504.83L258.54 506.87M263.46 507.61L272.84 510.09M277.76 511.13L287.14 513.17M291.75 514.06L301.25 515.24M306.05 515.56L316.05 516.64" stroke="#000" stroke-width="1.4" fill="none" stroke-linejoin="miter"/>
<path d="M91 571.25v-3.2M91 333.5v3.2M138.5 571.25v-3.2M138.5 333.5v3.2M186 571.25v-3.2M186 333.5v3.2M233.5 571.25v-3.2M233.5 333.5v3.2M280.5 571.25v-3.2M280.5 333.5v3.2M43.5 521.2h3.2M328.4 521.2h-3.2M43.5 471.15h3.2M328.4 471.15h-3.2M43.5 421h3.2M328.4 421h-3.2M43.5 370.9h3.2M328.4 370.9h-3.2" stroke="#404040" stroke-width="0.62" fill="none"/>
<rect x="43.5" y="333.5" width="284.9" height="237.75" fill="none" stroke="#404040" stroke-width="0.62"/>
<g fill="#262626">
<text letter-spacing="-0.2" transform="translate(42.5 588.85) scale(0.93 1)" font-size="13.1" text-anchor="middle">0</text>
<text letter-spacing="-0.2" transform="translate(90 588.85) scale(0.93 1)" font-size="13.1" text-anchor="middle">0.1</text>
<text letter-spacing="-0.2" transform="translate(137.5 588.85) scale(0.93 1)" font-size="13.1" text-anchor="middle">0.2</text>
<text letter-spacing="-0.2" transform="translate(185 588.85) scale(0.93 1)" font-size="13.1" text-anchor="middle">0.3</text>
<text letter-spacing="-0.2" transform="translate(232.5 588.85) scale(0.93 1)" font-size="13.1" text-anchor="middle">0.4</text>
<text letter-spacing="-0.2" transform="translate(279.5 588.85) scale(0.93 1)" font-size="13.1" text-anchor="middle">0.5</text>
<text letter-spacing="-0.2" transform="translate(327.4 588.85) scale(0.93 1)" font-size="13.1" text-anchor="middle">0.6</text>
<text letter-spacing="-0.2" transform="translate(37.2 576.75) scale(0.93 1)" font-size="13.1" text-anchor="end">60</text>
<text letter-spacing="-0.2" transform="translate(37.2 526.7) scale(0.93 1)" font-size="13.1" text-anchor="end">80</text>
<text letter-spacing="-0.2" transform="translate(36.2 476.65) scale(0.93 1)" font-size="13.1" text-anchor="end">100</text>
<text letter-spacing="-0.2" transform="translate(36.2 426.5) scale(0.93 1)" font-size="13.1" text-anchor="end">120</text>
<text letter-spacing="-0.2" transform="translate(36.2 376.4) scale(0.93 1)" font-size="13.1" text-anchor="end">140</text>
<text transform="translate(184.95 606.65) scale(1.005 1)" font-size="13.4" text-anchor="middle">Time [s]</text>
<text transform="translate(10.8 457.77) rotate(-90) scale(1.005 1)" font-size="13.4" text-anchor="middle">Pressure [mmHg]</text>
<text class="t" transform="translate(11.5 327) scale(1.005 1)" font-size="13.4" fill="#000">Central aortic pressures during 90% VA ECMO support</text>
</g>
</g>
<g>
<path d="M441 333.5V571.25M488.4 333.5V571.25M535.5 333.5V571.25M582.7 333.5V571.25M630.4 333.5V571.25M393.5 521.2H677.5M393.5 471.15H677.5M393.5 421H677.5M393.5 370.9H677.5" stroke="#e2e2e2" stroke-width="0.7" fill="none"/>
<g fill="none" stroke-width="2.45" stroke-linejoin="round">
<path d="M393.9 484.1C394.4 484.2 395.89 484.52 396.89 484.7C397.89 484.89 398.88 485.05 399.88 485.19C400.88 485.34 401.88 485.46 402.88 485.57C403.87 485.68 404.87 485.77 405.87 485.85C406.87 485.92 407.86 485.98 408.86 486.02C409.86 486.07 410.86 486.09 411.86 486.1C412.85 486.11 413.85 486.11 414.85 486.09C415.85 486.07 416.85 486.04 417.85 486C418.85 485.95 419.84 485.9 420.84 485.84C421.84 485.77 422.84 485.7 423.84 485.63C424.84 485.55 425.84 485.47 426.84 485.38C427.84 485.3 428.84 485.21 429.83 485.12C430.83 485.03 431.83 484.94 432.83 484.85C433.83 484.77 434.83 484.68 435.83 484.6C436.83 484.52 437.83 484.44 438.83 484.37C439.83 484.3 440.83 484.23 441.83 484.17C442.83 484.11 443.83 484.05 444.83 484C445.83 483.95 446.83 483.9 447.83 483.86C448.83 483.81 449.83 483.77 450.83 483.73C451.83 483.7 452.83 483.66 453.83 483.63C454.83 483.6 455.83 483.57 456.83 483.55C457.83 483.52 458.83 483.5 459.83 483.47C460.83 483.45 461.84 483.43 462.84 483.42C463.84 483.4 464.84 483.38 465.84 483.37C466.84 483.35 467.84 483.34 468.84 483.32C469.84 483.31 470.84 483.3 471.84 483.29C472.85 483.27 473.85 483.26 474.85 483.25C475.85 483.24 476.85 483.23 477.85 483.22C478.85 483.21 479.85 483.2 480.86 483.19C481.86 483.18 482.86 483.17 483.86 483.16C484.86 483.16 485.86 483.15 486.86 483.14C487.87 483.13 488.87 483.13 489.87 483.12C490.87 483.12 491.87 483.11 492.87 483.11C493.88 483.1 494.88 483.1 495.88 483.09C496.88 483.09 497.88 483.08 498.88 483.08C499.89 483.08 500.89 483.07 501.89 483.07C502.89 483.07 503.89 483.07 504.9 483.07C505.9 483.06 506.9 483.06 507.9 483.06C508.9 483.06 509.91 483.06 510.91 483.06C511.91 483.06 512.91 483.06 513.92 483.07C514.92 483.07 515.92 483.07 516.92 483.07C517.92 483.07 518.93 483.08 519.93 483.08C520.93 483.08 521.93 483.08 522.94 483.09C523.94 483.09 524.94 483.1 525.94 483.1C526.95 483.11 527.95 483.11 528.95 483.12C529.95 483.12 530.95 483.13 531.96 483.13C532.96 483.14 533.96 483.15 534.96 483.15C535.97 483.16 536.97 483.17 537.97 483.18C538.97 483.18 539.98 483.19 540.98 483.2C541.98 483.21 542.98 483.22 543.99 483.23C544.99 483.24 545.99 483.25 546.99 483.25C548 483.26 549 483.27 550 483.28C551 483.29 552.01 483.3 553.01 483.31C554.01 483.31 555.01 483.32 556.02 483.32C557.02 483.32 558.02 483.32 559.02 483.32C560.03 483.31 561.03 483.31 562.03 483.3C563.03 483.29 564.04 483.27 565.04 483.26C566.04 483.24 567.04 483.22 568.05 483.19C569.05 483.17 570.05 483.14 571.05 483.12C572.06 483.09 573.06 483.06 574.06 483.03C575.06 483 576.07 482.97 577.07 482.94C578.07 482.92 579.07 482.89 580.08 482.86C581.08 482.84 582.08 482.82 583.08 482.8C584.09 482.78 585.09 482.76 586.09 482.75C587.09 482.73 588.1 482.72 589.1 482.72C590.1 482.71 591.1 482.71 592.1 482.72C593.11 482.72 594.11 482.72 595.11 482.73C596.11 482.73 597.12 482.74 598.12 482.74C599.12 482.75 600.12 482.76 601.12 482.76C602.13 482.77 603.13 482.77 604.13 482.77C605.13 482.77 606.13 482.77 607.14 482.77C608.14 482.77 609.14 482.76 610.14 482.75C611.14 482.74 612.15 482.72 613.15 482.7C614.15 482.68 615.15 482.66 616.15 482.63C617.15 482.6 618.16 482.57 619.16 482.53C620.16 482.5 621.16 482.46 622.16 482.42C623.16 482.38 624.17 482.33 625.17 482.29C626.17 482.24 627.17 482.19 628.17 482.14C629.17 482.09 630.17 482.04 631.18 481.99C632.18 481.93 633.18 481.88 634.18 481.82C635.18 481.76 636.18 481.7 637.18 481.65C638.18 481.59 639.19 481.53 640.19 481.47C641.19 481.41 642.19 481.35 643.19 481.29C644.19 481.23 645.19 481.17 646.19 481.11C647.19 481.05 648.19 480.99 649.19 480.93C650.19 480.87 651.2 480.82 652.2 480.76C653.2 480.71 654.2 480.65 655.2 480.6C656.2 480.55 657.2 480.5 658.2 480.45C659.2 480.4 660.2 480.35 661.2 480.31C662.2 480.27 663.2 480.23 664.2 480.19C665.2 480.15 666.2 480.12 667.2 480.08C668.2 480.05 669.7 480.01 670.2 480" stroke="#FEC87F"/>
<path d="M393.9 472.4C394.4 472.4 395.91 472.42 396.91 472.42C397.91 472.42 398.92 472.41 399.92 472.4C400.92 472.38 401.92 472.36 402.93 472.33C403.93 472.3 404.93 472.27 405.94 472.23C406.94 472.19 407.94 472.14 408.94 472.09C409.94 472.04 410.95 471.98 411.95 471.92C412.95 471.86 413.95 471.8 414.95 471.73C415.96 471.66 416.96 471.59 417.96 471.52C418.96 471.44 419.96 471.37 420.97 471.29C421.97 471.21 422.97 471.13 423.97 471.05C424.97 470.96 425.97 470.88 426.97 470.8C427.98 470.71 428.98 470.63 429.98 470.54C430.98 470.46 431.98 470.37 432.98 470.29C433.98 470.21 434.98 470.12 435.98 470.04C436.98 469.96 437.99 469.88 438.99 469.8C439.99 469.73 440.99 469.65 441.99 469.58C442.99 469.51 443.99 469.44 444.99 469.37C445.99 469.3 446.99 469.24 447.99 469.18C448.99 469.13 449.99 469.07 450.99 469.02C451.99 468.98 452.99 468.93 453.99 468.9C454.99 468.86 455.99 468.83 456.99 468.8C457.99 468.78 458.99 468.76 459.99 468.75C460.99 468.74 461.99 468.73 462.99 468.74C463.99 468.74 464.99 468.75 465.99 468.77C466.99 468.79 467.99 468.82 468.99 468.86C469.99 468.9 470.99 468.95 471.99 469C472.99 469.06 473.99 469.13 474.99 469.21C475.99 469.29 476.99 469.38 477.99 469.48C478.99 469.58 479.99 469.69 480.99 469.81C481.98 469.93 482.98 470.05 483.98 470.19C484.98 470.32 485.98 470.46 486.98 470.6C487.98 470.74 488.98 470.88 489.98 471.03C490.98 471.17 491.98 471.32 492.98 471.47C493.98 471.61 494.98 471.76 495.98 471.9C496.97 472.04 497.97 472.18 498.97 472.31C499.97 472.45 500.97 472.57 501.97 472.69C502.97 472.81 503.97 472.92 504.97 473.03C505.97 473.13 506.97 473.22 507.97 473.3C508.96 473.38 509.96 473.44 510.96 473.5C511.96 473.55 512.96 473.59 513.96 473.61C514.96 473.63 515.96 473.63 516.96 473.62C517.96 473.6 518.96 473.57 519.96 473.52C520.95 473.46 521.95 473.38 522.95 473.29C523.95 473.2 524.95 473.09 525.95 472.97C526.95 472.85 527.95 472.72 528.95 472.58C529.95 472.44 530.95 472.29 531.95 472.14C532.94 471.99 533.94 471.84 534.94 471.69C535.94 471.54 536.94 471.39 537.94 471.25C538.94 471.11 539.94 470.97 540.94 470.85C541.94 470.72 542.94 470.61 543.94 470.51C544.94 470.42 545.94 470.33 546.94 470.27C547.94 470.21 548.93 470.17 549.93 470.14C550.93 470.11 551.93 470.09 552.93 470.09C553.93 470.09 554.93 470.1 555.93 470.12C556.93 470.14 557.93 470.17 558.93 470.21C559.93 470.24 560.93 470.29 561.93 470.34C562.93 470.38 563.93 470.44 564.93 470.49C565.93 470.54 566.93 470.6 567.93 470.66C568.93 470.71 569.93 470.77 570.93 470.82C571.93 470.86 572.93 470.91 573.93 470.95C574.93 470.99 575.93 471.02 576.93 471.05C577.93 471.08 578.93 471.09 579.93 471.11C580.93 471.12 581.93 471.13 582.93 471.13C583.94 471.14 584.94 471.14 585.94 471.13C586.94 471.13 587.94 471.12 588.94 471.11C589.94 471.11 590.94 471.09 591.94 471.08C592.94 471.07 593.94 471.06 594.94 471.05C595.95 471.03 596.95 471.02 597.95 471.01C598.95 471 599.95 470.99 600.95 470.98C601.95 470.98 602.95 470.97 603.96 470.96C604.96 470.96 605.96 470.95 606.96 470.94C607.96 470.93 608.97 470.92 609.97 470.91C610.97 470.9 611.97 470.89 612.97 470.87C613.97 470.85 614.98 470.83 615.98 470.81C616.98 470.78 617.98 470.76 618.99 470.72C619.99 470.69 620.99 470.66 621.99 470.62C623 470.58 624 470.54 625 470.5C626 470.46 627.01 470.41 628.01 470.37C629.01 470.33 630.02 470.28 631.02 470.24C632.02 470.2 633.03 470.15 634.03 470.11C635.03 470.07 636.04 470.03 637.04 469.99C638.04 469.96 639.05 469.92 640.05 469.89C641.06 469.86 642.06 469.83 643.06 469.81C644.07 469.78 645.07 469.76 646.08 469.75C647.08 469.74 648.09 469.73 649.09 469.73C650.09 469.73 651.1 469.74 652.1 469.75C653.11 469.77 654.11 469.79 655.12 469.82C656.12 469.85 657.13 469.88 658.13 469.92C659.14 469.96 660.14 470.01 661.15 470.06C662.16 470.11 663.16 470.17 664.17 470.23C665.17 470.28 666.18 470.35 667.18 470.41C668.19 470.47 669.7 470.57 670.2 470.6" stroke="#FE874B"/>
<path d="M393.9 467.1C394.4 467.2 395.89 467.51 396.89 467.68C397.89 467.86 398.89 468.01 399.89 468.14C400.88 468.27 401.88 468.38 402.88 468.48C403.88 468.58 404.88 468.66 405.88 468.72C406.88 468.78 407.87 468.83 408.87 468.87C409.87 468.9 410.87 468.92 411.87 468.93C412.87 468.94 413.87 468.94 414.87 468.93C415.87 468.92 416.86 468.89 417.86 468.86C418.86 468.84 419.86 468.8 420.86 468.75C421.86 468.71 422.86 468.66 423.86 468.6C424.86 468.55 425.86 468.49 426.86 468.43C427.86 468.37 428.86 468.3 429.86 468.24C430.86 468.17 431.86 468.1 432.86 468.04C433.86 467.98 434.86 467.91 435.86 467.85C436.86 467.79 437.86 467.73 438.86 467.68C439.86 467.62 440.86 467.57 441.86 467.53C442.86 467.48 443.86 467.43 444.86 467.39C445.86 467.35 446.86 467.31 447.86 467.27C448.86 467.24 449.86 467.2 450.86 467.17C451.86 467.14 452.87 467.11 453.87 467.08C454.87 467.06 455.87 467.03 456.87 467.01C457.87 466.99 458.87 466.96 459.87 466.94C460.87 466.92 461.87 466.91 462.87 466.89C463.88 466.87 464.88 466.86 465.88 466.84C466.88 466.83 467.88 466.82 468.88 466.81C469.88 466.79 470.88 466.78 471.89 466.77C472.89 466.76 473.89 466.75 474.89 466.75C475.89 466.74 476.89 466.73 477.9 466.72C478.9 466.72 479.9 466.71 480.9 466.7C481.9 466.7 482.9 466.69 483.91 466.69C484.91 466.68 485.91 466.68 486.91 466.67C487.91 466.67 488.91 466.67 489.92 466.66C490.92 466.66 491.92 466.66 492.92 466.66C493.92 466.65 494.93 466.65 495.93 466.65C496.93 466.65 497.93 466.65 498.93 466.65C499.94 466.64 500.94 466.64 501.94 466.64C502.94 466.64 503.94 466.64 504.95 466.64C505.95 466.64 506.95 466.64 507.95 466.63C508.95 466.63 509.96 466.63 510.96 466.63C511.96 466.63 512.96 466.63 513.97 466.63C514.97 466.62 515.97 466.62 516.97 466.62C517.98 466.62 518.98 466.61 519.98 466.61C520.98 466.61 521.98 466.6 522.99 466.6C523.99 466.59 524.99 466.59 525.99 466.58C527 466.58 528 466.57 529 466.57C530 466.56 531.01 466.55 532.01 466.55C533.01 466.54 534.01 466.53 535.02 466.52C536.02 466.51 537.02 466.5 538.02 466.49C539.03 466.48 540.03 466.47 541.03 466.46C542.03 466.44 543.04 466.43 544.04 466.42C545.04 466.4 546.04 466.39 547.04 466.37C548.05 466.35 549.05 466.34 550.05 466.32C551.05 466.3 552.06 466.28 553.06 466.26C554.06 466.25 555.06 466.23 556.07 466.21C557.07 466.19 558.07 466.17 559.07 466.15C560.08 466.13 561.08 466.11 562.08 466.09C563.08 466.07 564.09 466.05 565.09 466.03C566.09 466.01 567.09 465.99 568.09 465.98C569.1 465.96 570.1 465.94 571.1 465.92C572.1 465.91 573.11 465.89 574.11 465.88C575.11 465.86 576.11 465.85 577.11 465.84C578.12 465.83 579.12 465.82 580.12 465.81C581.12 465.8 582.13 465.79 583.13 465.79C584.13 465.78 585.13 465.78 586.13 465.78C587.14 465.78 588.14 465.78 589.14 465.78C590.14 465.78 591.14 465.79 592.15 465.79C593.15 465.79 594.15 465.8 595.15 465.8C596.15 465.81 597.16 465.81 598.16 465.81C599.16 465.82 600.16 465.82 601.16 465.82C602.16 465.82 603.17 465.82 604.17 465.81C605.17 465.81 606.17 465.8 607.17 465.79C608.17 465.78 609.17 465.77 610.18 465.75C611.18 465.73 612.18 465.71 613.18 465.68C614.18 465.65 615.18 465.62 616.18 465.59C617.19 465.56 618.19 465.52 619.19 465.48C620.19 465.44 621.19 465.39 622.19 465.35C623.19 465.3 624.19 465.25 625.2 465.2C626.2 465.15 627.2 465.09 628.2 465.04C629.2 464.98 630.2 464.92 631.2 464.86C632.2 464.8 633.2 464.74 634.2 464.68C635.2 464.61 636.2 464.55 637.2 464.49C638.21 464.42 639.21 464.35 640.21 464.29C641.21 464.22 642.21 464.16 643.21 464.09C644.21 464.02 645.21 463.95 646.21 463.89C647.21 463.82 648.21 463.75 649.21 463.68C650.21 463.62 651.21 463.55 652.21 463.48C653.21 463.42 654.21 463.35 655.21 463.29C656.21 463.22 657.21 463.16 658.21 463.09C659.21 463.03 660.21 462.97 661.21 462.91C662.21 462.85 663.2 462.79 664.2 462.73C665.2 462.67 666.2 462.61 667.2 462.56C668.2 462.5 669.7 462.43 670.2 462.4" stroke="#F62411"/>
<path d="M393.9 478.8C394.4 478.84 395.9 478.97 396.89 479.05C397.89 479.14 398.89 479.24 399.89 479.34C400.89 479.43 401.89 479.53 402.88 479.62C403.88 479.72 404.88 479.81 405.88 479.89C406.88 479.98 407.88 480.06 408.88 480.12C409.87 480.19 410.87 480.25 411.87 480.29C412.87 480.33 413.87 480.36 414.87 480.38C415.87 480.39 416.87 480.39 417.87 480.38C418.86 480.37 419.86 480.34 420.86 480.31C421.86 480.27 422.86 480.22 423.86 480.17C424.86 480.11 425.86 480.05 426.86 479.98C427.86 479.91 428.86 479.83 429.86 479.75C430.86 479.67 431.86 479.58 432.86 479.49C433.86 479.4 434.86 479.31 435.86 479.21C436.86 479.12 437.86 479.02 438.86 478.93C439.86 478.84 440.86 478.74 441.86 478.65C442.86 478.55 443.86 478.46 444.86 478.37C445.86 478.27 446.86 478.18 447.86 478.09C448.86 478 449.86 477.91 450.86 477.82C451.86 477.73 452.86 477.64 453.86 477.55C454.86 477.47 455.86 477.39 456.86 477.3C457.86 477.22 458.87 477.14 459.87 477.07C460.87 476.99 461.87 476.92 462.87 476.85C463.87 476.78 464.87 476.71 465.87 476.64C466.87 476.58 467.87 476.52 468.88 476.46C469.88 476.4 470.88 476.35 471.88 476.3C472.88 476.25 473.88 476.21 474.88 476.17C475.88 476.12 476.88 476.09 477.89 476.05C478.89 476.02 479.89 475.99 480.89 475.96C481.89 475.93 482.89 475.9 483.89 475.88C484.9 475.86 485.9 475.84 486.9 475.83C487.9 475.81 488.9 475.8 489.9 475.79C490.91 475.78 491.91 475.77 492.91 475.76C493.91 475.76 494.91 475.75 495.91 475.75C496.92 475.75 497.92 475.75 498.92 475.75C499.92 475.76 500.92 475.76 501.93 475.77C502.93 475.77 503.93 475.78 504.93 475.79C505.93 475.8 506.94 475.81 507.94 475.82C508.94 475.83 509.94 475.85 510.94 475.86C511.95 475.87 512.95 475.89 513.95 475.91C514.95 475.92 515.95 475.94 516.96 475.96C517.96 475.97 518.96 475.99 519.96 476.01C520.96 476.03 521.97 476.05 522.97 476.07C523.97 476.08 524.97 476.1 525.97 476.12C526.98 476.14 527.98 476.16 528.98 476.18C529.98 476.2 530.99 476.21 531.99 476.23C532.99 476.25 533.99 476.27 534.99 476.28C536 476.3 537 476.31 538 476.33C539 476.34 540.01 476.36 541.01 476.37C542.01 476.38 543.01 476.4 544.02 476.41C545.02 476.42 546.02 476.43 547.02 476.44C548.02 476.45 549.03 476.46 550.03 476.47C551.03 476.48 552.03 476.48 553.04 476.49C554.04 476.5 555.04 476.5 556.04 476.51C557.05 476.51 558.05 476.52 559.05 476.52C560.05 476.52 561.05 476.52 562.06 476.52C563.06 476.52 564.06 476.52 565.06 476.52C566.07 476.52 567.07 476.52 568.07 476.52C569.07 476.51 570.07 476.51 571.08 476.5C572.08 476.5 573.08 476.49 574.08 476.48C575.09 476.48 576.09 476.47 577.09 476.46C578.09 476.45 579.09 476.44 580.1 476.43C581.1 476.41 582.1 476.4 583.1 476.39C584.1 476.37 585.11 476.36 586.11 476.34C587.11 476.33 588.11 476.31 589.12 476.29C590.12 476.27 591.12 476.25 592.12 476.23C593.12 476.21 594.13 476.19 595.13 476.16C596.13 476.14 597.13 476.11 598.13 476.09C599.13 476.06 600.14 476.03 601.14 476.01C602.14 475.98 603.14 475.95 604.14 475.92C605.15 475.89 606.15 475.85 607.15 475.82C608.15 475.79 609.15 475.75 610.15 475.71C611.16 475.68 612.16 475.64 613.16 475.6C614.16 475.56 615.16 475.52 616.16 475.48C617.16 475.44 618.17 475.4 619.17 475.35C620.17 475.31 621.17 475.26 622.17 475.22C623.17 475.17 624.17 475.12 625.18 475.08C626.18 475.03 627.18 474.98 628.18 474.93C629.18 474.88 630.18 474.83 631.18 474.77C632.18 474.72 633.19 474.67 634.19 474.62C635.19 474.56 636.19 474.51 637.19 474.45C638.19 474.4 639.19 474.34 640.19 474.28C641.19 474.22 642.19 474.17 643.19 474.11C644.19 474.05 645.2 473.99 646.2 473.93C647.2 473.87 648.2 473.81 649.2 473.75C650.2 473.69 651.2 473.63 652.2 473.56C653.2 473.5 654.2 473.44 655.2 473.38C656.2 473.31 657.2 473.25 658.2 473.18C659.2 473.12 660.2 473.06 661.2 472.99C662.2 472.93 663.2 472.86 664.2 472.8C665.2 472.73 666.2 472.67 667.2 472.6C668.2 472.53 669.7 472.43 670.2 472.4" stroke="#5F3099"/>
</g>
<path d="M393.49 503.83L396.5 494.87M396.25 489.65L397.33 481.15M398.34 474.85L399.53 466.35M400.23 460.65L401.42 452.15M401.52 446.45L402.82 437.65M403.51 432.05L404.92 423.15M406 417.94L407.52 409.26M408.58 403.64L410.42 395.36M411.95 390.34L414.33 381.86M415.91 378.23L419.24 369.37M421.43 366.8L423.8 363L426.33 362.19M429.28 360.27L433.67 357.9L436.79 359.02M440.66 359.11L444.14 361.4L448.66 362.59M451.97 365.85L458.34 372.35M461.08 376.52L466.58 383.98M469.07 388.31L470.95 391.2L474.02 396.6M476.04 401.01L481.42 408.89M483.05 413.59L487.67 422.01M489.84 426.69L493.94 434.91M495.81 439.59L500.23 447.91M502.2 452.79L506.2 461.01M508.19 465.88L512.27 474.52M514.68 479.48L518.14 487.62M519 492.67L521.8 501.63M523.09 506.67L525.78 515.43M527.18 520.56L529.77 529.54M530.97 534.56L533.55 543.54M534.95 548.67L537.65 557.53M538 553.55L538.49 549.4L539.34 549.2L543.26 550.4M545.23 545.7L550.59 537.2M552.61 532.99L558.07 524.51M560.33 520.55L567.1 513.65M570.72 510.13L579.73 506.37M584.25 505.23L593.22 504.57M598.21 504.83L607.86 506.87M612.77 507.61L622.11 510.09M627.02 511.13L636.37 513.17M640.97 514.06L650.43 515.24M655.22 515.56L665.19 516.64" stroke="#000" stroke-width="1.4" fill="none" stroke-linejoin="miter"/>
<path d="M441 571.25v-3.2M441 333.5v3.2M488.4 571.25v-3.2M488.4 333.5v3.2M535.5 571.25v-3.2M535.5 333.5v3.2M582.7 571.25v-3.2M582.7 333.5v3.2M630.4 571.25v-3.2M630.4 333.5v3.2M393.5 521.2h3.2M677.5 521.2h-3.2M393.5 471.15h3.2M677.5 471.15h-3.2M393.5 421h3.2M677.5 421h-3.2M393.5 370.9h3.2M677.5 370.9h-3.2" stroke="#404040" stroke-width="0.62" fill="none"/>
<rect x="393.5" y="333.5" width="284" height="237.75" fill="none" stroke="#404040" stroke-width="0.62"/>
<g fill="#262626">
<text letter-spacing="-0.2" transform="translate(392.5 588.85) scale(0.93 1)" font-size="13.1" text-anchor="middle">0</text>
<text letter-spacing="-0.2" transform="translate(440 588.85) scale(0.93 1)" font-size="13.1" text-anchor="middle">0.1</text>
<text letter-spacing="-0.2" transform="translate(487.4 588.85) scale(0.93 1)" font-size="13.1" text-anchor="middle">0.2</text>
<text letter-spacing="-0.2" transform="translate(534.5 588.85) scale(0.93 1)" font-size="13.1" text-anchor="middle">0.3</text>
<text letter-spacing="-0.2" transform="translate(581.7 588.85) scale(0.93 1)" font-size="13.1" text-anchor="middle">0.4</text>
<text letter-spacing="-0.2" transform="translate(629.4 588.85) scale(0.93 1)" font-size="13.1" text-anchor="middle">0.5</text>
<text letter-spacing="-0.2" transform="translate(676.5 588.85) scale(0.93 1)" font-size="13.1" text-anchor="middle">0.6</text>
<text letter-spacing="-0.2" transform="translate(387.2 576.75) scale(0.93 1)" font-size="13.1" text-anchor="end">60</text>
<text letter-spacing="-0.2" transform="translate(387.2 526.7) scale(0.93 1)" font-size="13.1" text-anchor="end">80</text>
<text letter-spacing="-0.2" transform="translate(386.2 476.65) scale(0.93 1)" font-size="13.1" text-anchor="end">100</text>
<text letter-spacing="-0.2" transform="translate(386.2 426.5) scale(0.93 1)" font-size="13.1" text-anchor="end">120</text>
<text letter-spacing="-0.2" transform="translate(386.2 376.4) scale(0.93 1)" font-size="13.1" text-anchor="end">140</text>
<text transform="translate(534.5 606.65) scale(1.005 1)" font-size="13.4" text-anchor="middle">Time [s]</text>
<text transform="translate(360.8 457.77) rotate(-90) scale(1.005 1)" font-size="13.4" text-anchor="middle">Pressure [mmHg]</text>
<text class="t" transform="translate(361.5 327) scale(0.997 1)" font-size="13.4" fill="#000">Central aortic pressures during 50% ECPELLA support</text>
</g>
</g>
<g>
<rect x="160.9" y="624.2" width="423.1" height="17.4" fill="#fff" stroke="#404040" stroke-width="0.7"/>
<g fill="#262626">
<path d="M164.8 632.9H200.3" stroke="#FEC87F" stroke-width="2.1"/>
<text transform="translate(204 637) scale(1.0 1)" font-size="11">iliac</text>
<path d="M230.3 632.9H265.9" stroke="#FE874B" stroke-width="2.1"/>
<text transform="translate(269.1 637) scale(1.0 1)" font-size="11">abd ao</text>
<path d="M309.8 632.9H345.5" stroke="#F62411" stroke-width="2.1"/>
<text transform="translate(349.5 637) scale(1.0 1)" font-size="11">thor ao</text>
<path d="M390.8 632.9H427" stroke="#5F3099" stroke-width="2.1"/>
<text transform="translate(430.5 637) scale(1.0 1)" font-size="11">desc ao</text>
<path d="M476.1 632.9H484.9M490.6 632.9H499.2M504.9 632.9H512.6" stroke="#000" stroke-width="1.3"/>
<text transform="translate(515.5 637) scale(1.0 1)" font-size="11">Physiological</text>
</g>
</g>
</svg></body></html>
